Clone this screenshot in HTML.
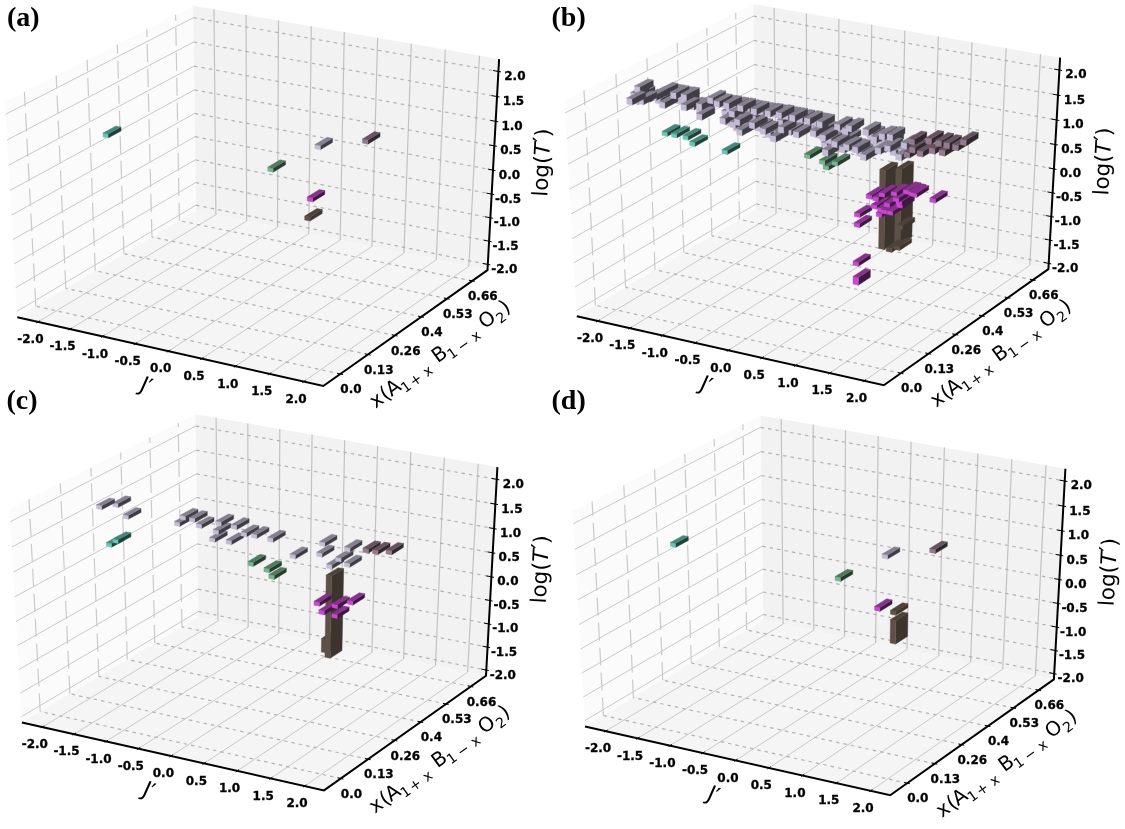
<!DOCTYPE html>
<html><head><meta charset="utf-8"><title>Figure</title>
<style>html,body{margin:0;padding:0;background:#fff;width:1125px;height:829px;overflow:hidden}svg{display:block;filter:blur(0.7px)}</style>
</head><body>
<svg width="1125" height="829" viewBox="0 0 1125 829">
<style>
.tl text{font-family:"DejaVu Sans",sans-serif;font-weight:bold;font-size:12px;text-anchor:middle;fill:#000;stroke:#000;stroke-width:0.3px}
.al{font-family:"DejaVu Sans",sans-serif;font-size:21.5px;fill:#000}
.pr{font-size:24px}
.cl{font-size:20px}
.sb{font-size:14px}
.pl{font-family:"Liberation Serif",serif;font-weight:bold;font-size:28px;fill:#000}
</style>
<rect width="1125" height="829" fill="#fff"/>
<g id="pa"><polygon points="17.3,317.2 196.1,210.7 193.2,5.7 4.9,101.7" fill="#fbfbfb"/>
<polygon points="196.1,210.7 487.5,270.1 499.1,59.1 193.2,5.7" fill="#f2f2f2"/>
<polygon points="17.3,317.2 323.3,386.0 487.5,270.1 196.1,210.7" fill="#f5f5f5"/>
<path d="M215.9 214.7L214.0 9.3 M246.6 221.0L246.1 14.9 M277.5 227.3L278.5 20.6 M308.7 233.7L311.3 26.3 M340.2 240.1L344.3 32.1 M371.9 246.5L377.6 37.9 M404.0 253.1L411.3 43.8 M436.3 259.7L445.3 49.7 M468.9 266.3L479.5 55.7" stroke="#c2c2c2" stroke-width="1.2" fill="none"/>
<path d="M35.8 306.2L24.4 91.7 M65.8 288.3L56.2 75.5 M95.2 270.8L87.1 59.8 M123.9 253.7L117.3 44.4 M151.9 237.0L146.8 29.3 M179.4 220.7L175.6 14.6" stroke="#cacaca" stroke-width="1.2" stroke-dasharray="18 7" fill="none"/>
<path d="M38.0 321.9L215.9 214.7 M70.1 329.1L246.6 221.0 M102.6 336.4L277.5 227.3 M135.3 343.8L308.7 233.7 M168.3 351.2L340.2 240.1 M201.7 358.7L371.9 246.5 M235.4 366.3L404.0 253.1 M269.4 373.9L436.3 259.7 M303.7 381.6L468.9 266.3 M16.9 311.4L196.0 205.2 M15.6 287.8L195.7 182.6 M14.2 263.8L195.4 159.8 M12.8 239.6L195.1 136.7 M11.4 215.2L194.7 113.4 M10.0 190.4L194.4 89.9 M8.5 165.3L194.1 66.1 M7.1 140.0L193.7 42.0 M5.6 114.3L193.4 17.7" stroke="#c9c9c9" stroke-width="1.0" fill="none"/>
<path d="M340.3 374.0L35.8 306.2 M368.0 354.5L65.8 288.3 M395.0 335.4L95.2 270.8 M421.3 316.8L123.9 253.7 M447.0 298.7L151.9 237.0 M472.1 280.9L179.4 220.7 M196.0 205.2L487.8 264.4 M195.7 182.6L489.0 241.2 M195.4 159.8L490.3 217.8 M195.1 136.7L491.6 194.1 M194.7 113.4L493.0 170.1 M194.4 89.9L494.3 145.9 M194.1 66.1L495.6 121.3 M193.7 42.0L497.0 96.5 M193.4 17.7L498.4 71.5" stroke="#b3b3b3" stroke-width="1.2" stroke-dasharray="3.5 4" fill="none"/>
<g><polygon points="108.2,138.0 121.1,130.9 121.0,127.0 108.0,134.1" fill="#21403a" stroke="#21403a" stroke-width="0.4"/><polygon points="103.0,137.0 108.2,138.0 108.0,134.1 102.9,133.1" fill="#66c8b4" stroke="#66c8b4" stroke-width="0.4"/><polygon points="102.9,133.1 108.0,134.1 121.0,127.0 115.8,126.0" fill="#45887a" stroke="#45887a" stroke-width="0.4"/><polygon points="310.1,221.1 322.2,213.5 322.3,209.6 310.2,217.2" fill="#3d342d" stroke="#3d342d" stroke-width="0.4"/><polygon points="304.7,220.0 310.1,221.1 310.2,217.2 304.7,216.1" fill="#5e5046" stroke="#5e5046" stroke-width="0.4"/><polygon points="304.7,216.1 310.2,217.2 322.3,209.6 316.9,208.5" fill="#4d4239" stroke="#4d4239" stroke-width="0.4"/><polygon points="273.1,172.2 285.5,164.8 285.5,160.9 273.1,168.2" fill="#263a2d" stroke="#263a2d" stroke-width="0.4"/><polygon points="267.7,171.2 273.1,172.2 273.1,168.2 267.7,167.2" fill="#78b48c" stroke="#78b48c" stroke-width="0.4"/><polygon points="267.7,167.2 273.1,168.2 285.5,160.9 280.1,159.8" fill="#527a5f" stroke="#527a5f" stroke-width="0.4"/><polygon points="312.6,202.0 324.7,194.4 324.8,190.5 312.7,198.0" fill="#401743" stroke="#401743" stroke-width="0.4"/><polygon points="307.2,200.9 312.6,202.0 312.7,198.0 307.2,197.0" fill="#c848d0" stroke="#c848d0" stroke-width="0.4"/><polygon points="307.2,197.0 312.7,198.0 324.8,190.5 319.4,189.4" fill="#88318d" stroke="#88318d" stroke-width="0.4"/><polygon points="320.3,149.8 332.5,142.4 332.6,138.3 320.3,145.7" fill="#3f3c44" stroke="#3f3c44" stroke-width="0.4"/><polygon points="314.8,148.7 320.3,149.8 320.3,145.7 314.8,144.6" fill="#c4bcd4" stroke="#c4bcd4" stroke-width="0.4"/><polygon points="314.8,144.6 320.3,145.7 332.6,138.3 327.1,137.3" fill="#858090" stroke="#858090" stroke-width="0.4"/><polygon points="367.9,144.2 380.0,136.8 380.1,132.7 368.0,140.1" fill="#30272d" stroke="#30272d" stroke-width="0.4"/><polygon points="362.3,143.1 367.9,144.2 368.0,140.1 362.4,139.0" fill="#957a8e" stroke="#957a8e" stroke-width="0.4"/><polygon points="362.4,139.0 368.0,140.1 380.1,132.7 374.5,131.6" fill="#655361" stroke="#655361" stroke-width="0.4"/></g>
<polyline points="17.3,317.2 323.3,386.0 487.5,270.1 499.1,59.1" stroke="#000" stroke-width="2" fill="none" stroke-linejoin="miter"/>
<path d="M36.4 322.9L39.9 320.8 M68.6 330.1L72.0 328.0 M101.0 337.4L104.4 335.2 M133.7 344.8L137.2 342.6 M166.8 352.2L170.2 350.0 M200.2 359.7L203.5 357.5 M233.9 367.3L237.2 365.1 M267.9 375.0L271.2 372.7 M302.3 382.7L305.5 380.4 M343.0 374.6L337.1 373.3 M370.6 355.1L364.8 353.8 M397.6 336.0L391.8 334.8 M423.9 317.4L418.2 316.2 M449.6 299.2L443.9 298.0 M474.7 281.4L469.1 280.3 M490.3 264.9L482.7 263.4 M491.6 241.7L483.9 240.2 M492.9 218.3L485.2 216.8 M494.2 194.6L486.5 193.1 M495.5 170.6L487.8 169.1 M496.9 146.3L489.1 144.9 M498.3 121.8L490.4 120.4 M499.6 97.0L491.7 95.6 M501.0 71.9L493.1 70.5" stroke="#000" stroke-width="1" fill="none"/>
<g class="tl"><text x="30.4" y="343.1">-2.0</text><text x="62.5" y="350.3">-1.5</text><text x="95.0" y="357.6">-1.0</text><text x="127.7" y="365.0">-0.5</text><text x="160.7" y="372.4">0.0</text><text x="194.1" y="379.9">0.5</text><text x="227.8" y="387.5">1.0</text><text x="261.8" y="395.1">1.5</text><text x="296.1" y="402.8">2.0</text><text x="351.0" y="393.1">0.0</text><text x="378.7" y="373.6">0.13</text><text x="405.7" y="354.5">0.26</text><text x="432.0" y="335.9">0.4</text><text x="457.7" y="317.8">0.53</text><text x="482.8" y="300.0">0.66</text><text x="504.3" y="272.8">-2.0</text><text x="505.5" y="249.6">-1.5</text><text x="506.8" y="226.2">-1.0</text><text x="508.1" y="202.5">-0.5</text><text x="509.5" y="178.5">0.0</text><text x="510.8" y="154.3">0.5</text><text x="512.1" y="129.7">1.0</text><text x="513.5" y="104.9">1.5</text><text x="514.9" y="79.9">2.0</text></g>
<text class="al" x="145.5" y="392.0" transform="rotate(12.9 145.5 392.0)" text-anchor="middle"><tspan font-style="italic">J</tspan><tspan class="pr" dy="3">′</tspan></text>
<text class="al" x="549.0" y="163.0" transform="rotate(-87 549.0 163.0)" text-anchor="middle">log(<tspan font-style="italic">T</tspan><tspan class="pr">′</tspan>)</text>
<text class="al cl" transform="translate(380.3 405.2) rotate(-36)" text-anchor="middle"><tspan x="0.0" y="0.0">x</tspan><tspan x="10.7" y="0.0">(</tspan><tspan x="20.6" y="0.0">A</tspan><tspan x="31.7" y="5.0" class="sb">1</tspan><tspan x="43.6" y="5.0" class="sb">+</tspan><tspan x="58.6" y="5.0" class="sb">x</tspan><tspan x="78.0" y="0.0">B</tspan><tspan x="88.8" y="5.0" class="sb">1</tspan><tspan x="102.7" y="5.0" class="sb">−</tspan><tspan x="118.0" y="5.0" class="sb">x</tspan><tspan x="136.6" y="0.0">O</tspan><tspan x="149.5" y="5.0" class="sb">2</tspan><tspan x="158.7" y="0.0">)</tspan></text></g>
<g id="pb"><polygon points="576.8,316.3 756.2,209.5 753.3,4.1 564.4,100.3" fill="#fbfbfb"/>
<polygon points="756.2,209.5 1048.4,269.1 1060.1,57.6 753.3,4.1" fill="#f2f2f2"/>
<polygon points="576.8,316.3 883.8,385.3 1048.4,269.1 756.2,209.5" fill="#f5f5f5"/>
<path d="M776.1 213.6L774.1 7.7 M806.8 219.9L806.4 13.3 M837.8 226.2L838.9 19.0 M869.1 232.5L871.7 24.7 M900.7 239.0L904.8 30.5 M932.6 245.5L938.3 36.4 M964.7 252.0L972.0 42.3 M997.1 258.6L1006.1 48.2 M1029.8 265.3L1040.5 54.2" stroke="#c2c2c2" stroke-width="1.2" fill="none"/>
<path d="M595.4 305.3L584.0 90.3 M625.6 287.3L615.9 74.1 M655.0 269.8L646.9 58.3 M683.8 252.7L677.2 42.8 M711.9 235.9L706.8 27.8 M739.4 219.5L735.7 13.0" stroke="#cacaca" stroke-width="1.2" stroke-dasharray="18 7" fill="none"/>
<path d="M597.7 321.0L776.1 213.6 M629.9 328.2L806.8 219.9 M662.4 335.5L837.8 226.2 M695.2 342.9L869.1 232.5 M728.4 350.4L900.7 239.0 M761.8 357.9L932.6 245.5 M795.6 365.5L964.7 252.0 M829.7 373.1L997.1 258.6 M864.2 380.9L1029.8 265.3 M576.5 310.5L756.1 204.0 M575.2 286.8L755.8 181.4 M573.8 262.8L755.5 158.5 M572.4 238.5L755.2 135.4 M571.0 214.0L754.8 112.0 M569.5 189.2L754.5 88.4 M568.1 164.1L754.2 64.6 M566.6 138.7L753.8 40.5 M565.2 112.9L753.5 16.1" stroke="#c9c9c9" stroke-width="1.0" fill="none"/>
<path d="M900.9 373.2L595.4 305.3 M928.6 353.7L625.6 287.3 M955.6 334.6L655.0 269.8 M982.1 315.9L683.8 252.7 M1007.9 297.7L711.9 235.9 M1033.0 279.9L739.4 219.5 M756.1 204.0L1048.7 263.4 M755.8 181.4L1050.0 240.1 M755.5 158.5L1051.3 216.6 M755.2 135.4L1052.6 192.9 M754.8 112.0L1053.9 168.9 M754.5 88.4L1055.3 144.6 M754.2 64.6L1056.6 120.0 M753.8 40.5L1058.0 95.1 M753.5 16.1L1059.4 70.0" stroke="#b3b3b3" stroke-width="1.2" stroke-dasharray="3.5 4" fill="none"/>
<g><polygon points="884.0,249.6 896.0,241.9 897.5,162.9 885.3,170.4" fill="#3d342d" stroke="#3d342d" stroke-width="0.4"/><polygon points="878.6,248.5 884.0,249.6 885.3,170.4 879.8,169.3" fill="#5e5046" stroke="#5e5046" stroke-width="0.4"/><polygon points="879.8,169.3 885.3,170.4 897.5,162.9 892.0,161.8" fill="#4d4239" stroke="#4d4239" stroke-width="0.4"/><polygon points="900.0,244.8 911.9,237.1 913.6,161.7 901.4,169.2" fill="#3d342d" stroke="#3d342d" stroke-width="0.4"/><polygon points="894.5,243.7 900.0,244.8 901.4,169.2 895.9,168.2" fill="#5e5046" stroke="#5e5046" stroke-width="0.4"/><polygon points="895.9,168.2 901.4,169.2 913.6,161.7 908.1,160.7" fill="#4d4239" stroke="#4d4239" stroke-width="0.4"/><polygon points="664.8,101.9 677.9,95.0 677.8,89.8 664.7,96.7" fill="#3f3c44" stroke="#3f3c44" stroke-width="0.4"/><polygon points="659.6,100.9 664.8,101.9 664.7,96.7 659.4,95.7" fill="#c4bcd4" stroke="#c4bcd4" stroke-width="0.4"/><polygon points="659.4,95.7 664.7,96.7 677.8,89.8 672.5,88.8" fill="#858090" stroke="#858090" stroke-width="0.4"/><polygon points="670.4,103.3 683.5,96.3 683.3,91.1 670.3,98.1" fill="#3f3c44" stroke="#3f3c44" stroke-width="0.4"/><polygon points="665.2,102.3 670.4,103.3 670.3,98.1 665.0,97.1" fill="#c4bcd4" stroke="#c4bcd4" stroke-width="0.4"/><polygon points="665.0,97.1 670.3,98.1 683.3,91.1 678.1,90.2" fill="#858090" stroke="#858090" stroke-width="0.4"/><polygon points="670.4,97.1 683.5,90.2 683.4,85.0 670.3,91.9" fill="#3f3c44" stroke="#3f3c44" stroke-width="0.4"/><polygon points="665.2,96.1 670.4,97.1 670.3,91.9 665.0,90.9" fill="#c4bcd4" stroke="#c4bcd4" stroke-width="0.4"/><polygon points="665.0,90.9 670.3,91.9 683.4,85.0 678.1,84.0" fill="#858090" stroke="#858090" stroke-width="0.4"/><polygon points="681.2,104.5 694.2,97.5 694.0,92.3 681.0,99.3" fill="#3f3c44" stroke="#3f3c44" stroke-width="0.4"/><polygon points="675.9,103.5 681.2,104.5 681.0,99.3 675.8,98.3" fill="#c4bcd4" stroke="#c4bcd4" stroke-width="0.4"/><polygon points="675.8,98.3 681.0,99.3 694.0,92.3 688.8,91.3" fill="#858090" stroke="#858090" stroke-width="0.4"/><polygon points="686.4,105.4 699.4,98.4 699.2,93.2 686.2,100.2" fill="#3f3c44" stroke="#3f3c44" stroke-width="0.4"/><polygon points="681.1,104.4 686.4,105.4 686.2,100.2 681.0,99.2" fill="#c4bcd4" stroke="#c4bcd4" stroke-width="0.4"/><polygon points="681.0,99.2 686.2,100.2 699.2,93.2 694.0,92.2" fill="#858090" stroke="#858090" stroke-width="0.4"/><polygon points="694.0,110.1 707.0,103.1 706.8,97.9 693.8,104.8" fill="#3f3c44" stroke="#3f3c44" stroke-width="0.4"/><polygon points="688.7,109.1 694.0,110.1 693.8,104.8 688.6,103.8" fill="#c4bcd4" stroke="#c4bcd4" stroke-width="0.4"/><polygon points="688.6,103.8 693.8,104.8 706.8,97.9 701.6,96.9" fill="#858090" stroke="#858090" stroke-width="0.4"/><polygon points="681.3,99.4 694.3,92.4 694.2,87.2 681.1,94.2" fill="#3f3c44" stroke="#3f3c44" stroke-width="0.4"/><polygon points="676.0,98.4 681.3,99.4 681.1,94.2 675.8,93.2" fill="#c4bcd4" stroke="#c4bcd4" stroke-width="0.4"/><polygon points="675.8,93.2 681.1,94.2 694.2,87.2 688.9,86.2" fill="#858090" stroke="#858090" stroke-width="0.4"/><polygon points="701.8,114.7 714.7,107.7 714.6,102.5 701.7,109.5" fill="#3f3c44" stroke="#3f3c44" stroke-width="0.4"/><polygon points="696.5,113.7 701.8,114.7 701.7,109.5 696.4,108.5" fill="#c4bcd4" stroke="#c4bcd4" stroke-width="0.4"/><polygon points="696.4,108.5 701.7,109.5 714.6,102.5 709.4,101.5" fill="#858090" stroke="#858090" stroke-width="0.4"/><polygon points="730.3,126.0 743.1,118.9 743.1,113.7 730.2,120.8" fill="#3f3c44" stroke="#3f3c44" stroke-width="0.4"/><polygon points="725.0,125.0 730.3,126.0 730.2,120.8 724.9,119.8" fill="#c4bcd4" stroke="#c4bcd4" stroke-width="0.4"/><polygon points="724.9,119.8 730.2,120.8 743.1,113.7 737.8,112.7" fill="#858090" stroke="#858090" stroke-width="0.4"/><polygon points="660.5,104.1 673.7,97.1 673.6,91.9 660.4,98.9" fill="#3f3c44" stroke="#3f3c44" stroke-width="0.4"/><polygon points="655.3,103.1 660.5,104.1 660.4,98.9 655.1,97.9" fill="#c4bcd4" stroke="#c4bcd4" stroke-width="0.4"/><polygon points="655.1,97.9 660.4,98.9 673.6,91.9 668.3,90.9" fill="#858090" stroke="#858090" stroke-width="0.4"/><polygon points="707.3,106.6 720.3,99.6 720.1,94.3 707.2,101.3" fill="#3f3c44" stroke="#3f3c44" stroke-width="0.4"/><polygon points="702.0,105.6 707.3,106.6 707.2,101.3 701.9,100.3" fill="#c4bcd4" stroke="#c4bcd4" stroke-width="0.4"/><polygon points="701.9,100.3 707.2,101.3 720.1,94.3 714.9,93.4" fill="#858090" stroke="#858090" stroke-width="0.4"/><polygon points="738.7,131.6 751.5,124.5 751.4,119.3 738.6,126.4" fill="#3f3c44" stroke="#3f3c44" stroke-width="0.4"/><polygon points="733.4,130.6 738.7,131.6 738.6,126.4 733.3,125.4" fill="#c4bcd4" stroke="#c4bcd4" stroke-width="0.4"/><polygon points="733.3,125.4 738.6,126.4 751.4,119.3 746.1,118.3" fill="#858090" stroke="#858090" stroke-width="0.4"/><polygon points="729.8,120.7 742.7,113.6 742.6,108.4 729.7,115.4" fill="#3f3c44" stroke="#3f3c44" stroke-width="0.4"/><polygon points="724.5,119.6 729.8,120.7 729.7,115.4 724.4,114.4" fill="#c4bcd4" stroke="#c4bcd4" stroke-width="0.4"/><polygon points="724.4,114.4 729.7,115.4 742.6,108.4 737.3,107.4" fill="#858090" stroke="#858090" stroke-width="0.4"/><polygon points="660.5,98.0 673.8,91.0 673.6,85.8 660.4,92.7" fill="#3f3c44" stroke="#3f3c44" stroke-width="0.4"/><polygon points="655.3,97.0 660.5,98.0 660.4,92.7 655.1,91.7" fill="#c4bcd4" stroke="#c4bcd4" stroke-width="0.4"/><polygon points="655.1,91.7 660.4,92.7 673.6,85.8 668.3,84.8" fill="#858090" stroke="#858090" stroke-width="0.4"/><polygon points="727.1,116.5 740.0,109.4 739.9,104.2 727.0,111.3" fill="#3f3c44" stroke="#3f3c44" stroke-width="0.4"/><polygon points="721.8,115.5 727.1,116.5 727.0,111.3 721.7,110.3" fill="#c4bcd4" stroke="#c4bcd4" stroke-width="0.4"/><polygon points="721.7,110.3 727.0,111.3 739.9,104.2 734.6,103.2" fill="#858090" stroke="#858090" stroke-width="0.4"/><polygon points="734.9,122.5 747.7,115.4 747.6,110.2 734.8,117.3" fill="#3f3c44" stroke="#3f3c44" stroke-width="0.4"/><polygon points="729.6,121.5 734.9,122.5 734.8,117.3 729.5,116.3" fill="#c4bcd4" stroke="#c4bcd4" stroke-width="0.4"/><polygon points="729.5,116.3 734.8,117.3 747.6,110.2 742.3,109.2" fill="#858090" stroke="#858090" stroke-width="0.4"/><polygon points="748.3,131.9 761.1,124.8 761.0,119.6 748.2,126.7" fill="#3f3c44" stroke="#3f3c44" stroke-width="0.4"/><polygon points="743.0,130.9 748.3,131.9 748.2,126.7 742.9,125.7" fill="#c4bcd4" stroke="#c4bcd4" stroke-width="0.4"/><polygon points="742.9,125.7 748.2,126.7 761.0,119.6 755.7,118.6" fill="#858090" stroke="#858090" stroke-width="0.4"/><polygon points="747.2,126.9 760.0,119.8 759.9,114.6 747.1,121.7" fill="#3f3c44" stroke="#3f3c44" stroke-width="0.4"/><polygon points="741.9,125.9 747.2,126.9 747.1,121.7 741.8,120.6" fill="#c4bcd4" stroke="#c4bcd4" stroke-width="0.4"/><polygon points="741.8,120.6 747.1,121.7 759.9,114.6 754.6,113.5" fill="#858090" stroke="#858090" stroke-width="0.4"/><polygon points="724.1,107.9 737.0,100.9 736.9,95.7 724.0,102.7" fill="#3f3c44" stroke="#3f3c44" stroke-width="0.4"/><polygon points="718.8,106.9 724.1,107.9 724.0,102.7 718.7,101.7" fill="#c4bcd4" stroke="#c4bcd4" stroke-width="0.4"/><polygon points="718.7,101.7 724.0,102.7 736.9,95.7 731.6,94.7" fill="#858090" stroke="#858090" stroke-width="0.4"/><polygon points="731.7,113.0 744.5,105.9 744.4,100.7 731.6,107.8" fill="#3f3c44" stroke="#3f3c44" stroke-width="0.4"/><polygon points="726.3,112.0 731.7,113.0 731.6,107.8 726.2,106.8" fill="#c4bcd4" stroke="#c4bcd4" stroke-width="0.4"/><polygon points="726.2,106.8 731.6,107.8 744.4,100.7 739.1,99.7" fill="#858090" stroke="#858090" stroke-width="0.4"/><polygon points="741.4,118.3 754.2,111.2 754.1,106.0 741.3,113.1" fill="#3f3c44" stroke="#3f3c44" stroke-width="0.4"/><polygon points="736.1,117.3 741.4,118.3 741.3,113.1 736.0,112.1" fill="#c4bcd4" stroke="#c4bcd4" stroke-width="0.4"/><polygon points="736.0,112.1 741.3,113.1 754.1,106.0 748.8,105.0" fill="#858090" stroke="#858090" stroke-width="0.4"/><polygon points="760.0,131.5 772.7,124.3 772.7,119.1 760.0,126.2" fill="#3f3c44" stroke="#3f3c44" stroke-width="0.4"/><polygon points="754.7,130.4 760.0,131.5 760.0,126.2 754.6,125.2" fill="#c4bcd4" stroke="#c4bcd4" stroke-width="0.4"/><polygon points="754.6,125.2 760.0,126.2 772.7,119.1 767.4,118.1" fill="#858090" stroke="#858090" stroke-width="0.4"/><polygon points="738.7,114.3 751.5,107.2 751.4,102.0 738.6,109.0" fill="#3f3c44" stroke="#3f3c44" stroke-width="0.4"/><polygon points="733.3,113.3 738.7,114.3 738.6,109.0 733.2,108.0" fill="#c4bcd4" stroke="#c4bcd4" stroke-width="0.4"/><polygon points="733.2,108.0 738.6,109.0 751.4,102.0 746.1,101.0" fill="#858090" stroke="#858090" stroke-width="0.4"/><polygon points="770.5,138.1 783.2,130.9 783.2,125.7 770.5,132.9" fill="#3f3c44" stroke="#3f3c44" stroke-width="0.4"/><polygon points="765.2,137.1 770.5,138.1 770.5,132.9 765.1,131.9" fill="#c4bcd4" stroke="#c4bcd4" stroke-width="0.4"/><polygon points="765.1,131.9 770.5,132.9 783.2,125.7 777.8,124.7" fill="#858090" stroke="#858090" stroke-width="0.4"/><polygon points="736.0,110.1 748.8,103.1 748.7,97.8 735.9,104.9" fill="#3f3c44" stroke="#3f3c44" stroke-width="0.4"/><polygon points="730.6,109.1 736.0,110.1 735.9,104.9 730.5,103.8" fill="#c4bcd4" stroke="#c4bcd4" stroke-width="0.4"/><polygon points="730.5,103.8 735.9,104.9 748.7,97.8 743.4,96.8" fill="#858090" stroke="#858090" stroke-width="0.4"/><polygon points="755.5,121.5 768.3,114.4 768.2,109.2 755.4,116.3" fill="#3f3c44" stroke="#3f3c44" stroke-width="0.4"/><polygon points="750.2,120.5 755.5,121.5 755.4,116.3 750.1,115.3" fill="#c4bcd4" stroke="#c4bcd4" stroke-width="0.4"/><polygon points="750.1,115.3 755.4,116.3 768.2,109.2 762.9,108.2" fill="#858090" stroke="#858090" stroke-width="0.4"/><polygon points="641.7,98.5 655.1,91.5 654.9,86.2 641.5,93.2" fill="#3f3c44" stroke="#3f3c44" stroke-width="0.4"/><polygon points="636.5,97.5 641.7,98.5 641.5,93.2 636.2,92.2" fill="#c4bcd4" stroke="#c4bcd4" stroke-width="0.4"/><polygon points="636.2,92.2 641.5,93.2 654.9,86.2 649.7,85.2" fill="#858090" stroke="#858090" stroke-width="0.4"/><polygon points="779.7,137.3 792.3,130.1 792.3,124.9 779.6,132.1" fill="#3f3c44" stroke="#3f3c44" stroke-width="0.4"/><polygon points="774.3,136.3 779.7,137.3 779.6,132.1 774.2,131.1" fill="#c4bcd4" stroke="#c4bcd4" stroke-width="0.4"/><polygon points="774.2,131.1 779.6,132.1 792.3,124.9 786.9,123.9" fill="#858090" stroke="#858090" stroke-width="0.4"/><polygon points="749.7,113.0 762.5,105.9 762.4,100.7 749.6,107.7" fill="#3f3c44" stroke="#3f3c44" stroke-width="0.4"/><polygon points="744.3,112.0 749.7,113.0 749.6,107.7 744.3,106.7" fill="#c4bcd4" stroke="#c4bcd4" stroke-width="0.4"/><polygon points="744.3,106.7 749.6,107.7 762.4,100.7 757.1,99.6" fill="#858090" stroke="#858090" stroke-width="0.4"/><polygon points="649.8,102.3 663.2,95.2 663.0,90.0 649.6,97.0" fill="#3f3c44" stroke="#3f3c44" stroke-width="0.4"/><polygon points="644.6,101.2 649.8,102.3 649.6,97.0 644.4,96.0" fill="#c4bcd4" stroke="#c4bcd4" stroke-width="0.4"/><polygon points="644.4,96.0 649.6,97.0 663.0,90.0 657.7,89.0" fill="#858090" stroke="#858090" stroke-width="0.4"/><polygon points="763.3,115.7 776.1,108.6 776.0,103.3 763.3,110.4" fill="#3f3c44" stroke="#3f3c44" stroke-width="0.4"/><polygon points="757.9,114.7 763.3,115.7 763.3,110.4 757.9,109.4" fill="#c4bcd4" stroke="#c4bcd4" stroke-width="0.4"/><polygon points="757.9,109.4 763.3,110.4 776.0,103.3 770.7,102.3" fill="#858090" stroke="#858090" stroke-width="0.4"/><polygon points="791.1,135.3 803.7,128.0 803.7,122.8 791.1,130.0" fill="#3f3c44" stroke="#3f3c44" stroke-width="0.4"/><polygon points="785.7,134.2 791.1,135.3 791.1,130.0 785.7,129.0" fill="#c4bcd4" stroke="#c4bcd4" stroke-width="0.4"/><polygon points="785.7,129.0 791.1,130.0 803.7,122.8 798.3,121.8" fill="#858090" stroke="#858090" stroke-width="0.4"/><polygon points="782.6,125.6 795.2,118.5 795.2,113.2 782.5,120.4" fill="#3f3c44" stroke="#3f3c44" stroke-width="0.4"/><polygon points="777.2,124.6 782.6,125.6 782.5,120.4 777.1,119.3" fill="#c4bcd4" stroke="#c4bcd4" stroke-width="0.4"/><polygon points="777.1,119.3 782.5,120.4 795.2,113.2 789.8,112.2" fill="#858090" stroke="#858090" stroke-width="0.4"/><polygon points="775.8,117.6 788.6,110.5 788.5,105.2 775.8,112.3" fill="#3f3c44" stroke="#3f3c44" stroke-width="0.4"/><polygon points="770.4,116.6 775.8,117.6 775.8,112.3 770.4,111.3" fill="#c4bcd4" stroke="#c4bcd4" stroke-width="0.4"/><polygon points="770.4,111.3 775.8,112.3 788.5,105.2 783.1,104.2" fill="#858090" stroke="#858090" stroke-width="0.4"/><polygon points="637.8,104.6 651.3,97.5 651.1,92.2 637.6,99.2" fill="#3f3c44" stroke="#3f3c44" stroke-width="0.4"/><polygon points="632.5,103.5 637.8,104.6 637.6,99.2 632.3,98.2" fill="#c4bcd4" stroke="#c4bcd4" stroke-width="0.4"/><polygon points="632.3,98.2 637.6,99.2 651.1,92.2 645.8,91.2" fill="#858090" stroke="#858090" stroke-width="0.4"/><polygon points="788.2,119.8 800.8,112.7 800.8,107.4 788.1,114.6" fill="#3f3c44" stroke="#3f3c44" stroke-width="0.4"/><polygon points="782.8,118.8 788.2,119.8 788.1,114.6 782.7,113.5" fill="#c4bcd4" stroke="#c4bcd4" stroke-width="0.4"/><polygon points="782.7,113.5 788.1,114.6 800.8,107.4 795.4,106.4" fill="#858090" stroke="#858090" stroke-width="0.4"/><polygon points="826.7,148.4 839.1,141.0 839.2,135.8 826.7,143.1" fill="#3f3c44" stroke="#3f3c44" stroke-width="0.4"/><polygon points="821.2,147.3 826.7,148.4 826.7,143.1 821.2,142.1" fill="#c4bcd4" stroke="#c4bcd4" stroke-width="0.4"/><polygon points="821.2,142.1 826.7,143.1 839.2,135.8 833.7,134.8" fill="#858090" stroke="#858090" stroke-width="0.4"/><polygon points="832.5,151.6 845.0,144.2 845.0,139.0 832.5,146.3" fill="#3f3c44" stroke="#3f3c44" stroke-width="0.4"/><polygon points="827.1,150.5 832.5,151.6 832.5,146.3 827.1,145.3" fill="#c4bcd4" stroke="#c4bcd4" stroke-width="0.4"/><polygon points="827.1,145.3 832.5,146.3 845.0,139.0 839.6,138.0" fill="#858090" stroke="#858090" stroke-width="0.4"/><polygon points="636.1,98.7 649.6,91.6 649.4,86.3 635.9,93.4" fill="#3f3c44" stroke="#3f3c44" stroke-width="0.4"/><polygon points="630.8,97.7 636.1,98.7 635.9,93.4 630.6,92.4" fill="#c4bcd4" stroke="#c4bcd4" stroke-width="0.4"/><polygon points="630.6,92.4 635.9,93.4 649.4,86.3 644.1,85.3" fill="#858090" stroke="#858090" stroke-width="0.4"/><polygon points="820.5,138.7 833.1,131.5 833.1,126.2 820.5,133.5" fill="#3f3c44" stroke="#3f3c44" stroke-width="0.4"/><polygon points="815.1,137.7 820.5,138.7 820.5,133.5 815.1,132.4" fill="#c4bcd4" stroke="#c4bcd4" stroke-width="0.4"/><polygon points="815.1,132.4 820.5,133.5 833.1,126.2 827.6,125.2" fill="#858090" stroke="#858090" stroke-width="0.4"/><polygon points="802.3,122.8 815.0,115.6 815.0,110.3 802.3,117.5" fill="#3f3c44" stroke="#3f3c44" stroke-width="0.4"/><polygon points="796.9,121.7 802.3,122.8 802.3,117.5 796.9,116.4" fill="#c4bcd4" stroke="#c4bcd4" stroke-width="0.4"/><polygon points="796.9,116.4 802.3,117.5 815.0,110.3 809.5,109.3" fill="#858090" stroke="#858090" stroke-width="0.4"/><polygon points="812.8,130.4 825.3,123.2 825.3,117.9 812.8,125.1" fill="#3f3c44" stroke="#3f3c44" stroke-width="0.4"/><polygon points="807.3,129.4 812.8,130.4 812.8,125.1 807.3,124.1" fill="#c4bcd4" stroke="#c4bcd4" stroke-width="0.4"/><polygon points="807.3,124.1 812.8,125.1 825.3,117.9 819.9,116.9" fill="#858090" stroke="#858090" stroke-width="0.4"/><polygon points="831.2,144.1 843.7,136.8 843.7,131.6 831.2,138.8" fill="#3f3c44" stroke="#3f3c44" stroke-width="0.4"/><polygon points="825.8,143.1 831.2,144.1 831.2,138.8 825.8,137.8" fill="#c4bcd4" stroke="#c4bcd4" stroke-width="0.4"/><polygon points="825.8,137.8 831.2,138.8 843.7,131.6 838.3,130.5" fill="#858090" stroke="#858090" stroke-width="0.4"/><polygon points="840.8,150.0 853.3,142.6 853.3,137.4 840.9,144.7" fill="#3f3c44" stroke="#3f3c44" stroke-width="0.4"/><polygon points="835.4,148.9 840.8,150.0 840.9,144.7 835.4,143.7" fill="#c4bcd4" stroke="#c4bcd4" stroke-width="0.4"/><polygon points="835.4,143.7 840.9,144.7 853.3,137.4 847.8,136.4" fill="#858090" stroke="#858090" stroke-width="0.4"/><polygon points="818.9,132.0 831.5,124.8 831.5,119.5 818.9,126.8" fill="#3f3c44" stroke="#3f3c44" stroke-width="0.4"/><polygon points="813.5,131.0 818.9,132.0 818.9,126.8 813.5,125.7" fill="#c4bcd4" stroke="#c4bcd4" stroke-width="0.4"/><polygon points="813.5,125.7 818.9,126.8 831.5,119.5 826.1,118.5" fill="#858090" stroke="#858090" stroke-width="0.4"/><polygon points="823.7,134.2 836.3,126.9 836.3,121.7 823.7,128.9" fill="#3f3c44" stroke="#3f3c44" stroke-width="0.4"/><polygon points="818.3,133.2 823.7,134.2 823.7,128.9 818.3,127.9" fill="#c4bcd4" stroke="#c4bcd4" stroke-width="0.4"/><polygon points="818.3,127.9 823.7,128.9 836.3,121.7 830.8,120.6" fill="#858090" stroke="#858090" stroke-width="0.4"/><polygon points="816.0,125.9 828.5,118.7 828.6,113.4 816.0,120.6" fill="#3f3c44" stroke="#3f3c44" stroke-width="0.4"/><polygon points="810.5,124.8 816.0,125.9 816.0,120.6 810.5,119.5" fill="#c4bcd4" stroke="#c4bcd4" stroke-width="0.4"/><polygon points="810.5,119.5 816.0,120.6 828.6,113.4 823.1,112.4" fill="#858090" stroke="#858090" stroke-width="0.4"/><polygon points="853.4,151.7 865.7,144.3 865.8,139.1 853.4,146.4" fill="#3f3c44" stroke="#3f3c44" stroke-width="0.4"/><polygon points="847.9,150.6 853.4,151.7 853.4,146.4 847.9,145.4" fill="#c4bcd4" stroke="#c4bcd4" stroke-width="0.4"/><polygon points="847.9,145.4 853.4,146.4 865.8,139.1 860.3,138.0" fill="#858090" stroke="#858090" stroke-width="0.4"/><polygon points="861.8,156.7 874.1,149.3 874.2,144.0 861.8,151.4" fill="#3f3c44" stroke="#3f3c44" stroke-width="0.4"/><polygon points="856.3,155.6 861.8,156.7 861.8,151.4 856.3,150.3" fill="#c4bcd4" stroke="#c4bcd4" stroke-width="0.4"/><polygon points="856.3,150.3 861.8,151.4 874.2,144.0 868.7,143.0" fill="#858090" stroke="#858090" stroke-width="0.4"/><polygon points="848.4,142.5 860.8,135.2 860.9,129.9 848.4,137.2" fill="#3f3c44" stroke="#3f3c44" stroke-width="0.4"/><polygon points="842.9,141.4 848.4,142.5 848.4,137.2 842.9,136.1" fill="#c4bcd4" stroke="#c4bcd4" stroke-width="0.4"/><polygon points="842.9,136.1 848.4,137.2 860.9,129.9 855.4,128.8" fill="#858090" stroke="#858090" stroke-width="0.4"/><polygon points="843.8,132.4 856.2,125.1 856.3,119.8 843.8,127.1" fill="#3f3c44" stroke="#3f3c44" stroke-width="0.4"/><polygon points="838.3,131.3 843.8,132.4 843.8,127.1 838.3,126.0" fill="#c4bcd4" stroke="#c4bcd4" stroke-width="0.4"/><polygon points="838.3,126.0 843.8,127.1 856.3,119.8 850.8,118.8" fill="#858090" stroke="#858090" stroke-width="0.4"/><polygon points="878.6,148.4 890.9,141.0 891.0,135.7 878.6,143.1" fill="#3f3c44" stroke="#3f3c44" stroke-width="0.4"/><polygon points="873.0,147.3 878.6,148.4 878.6,143.1 873.1,142.0" fill="#c4bcd4" stroke="#c4bcd4" stroke-width="0.4"/><polygon points="873.1,142.0 878.6,143.1 891.0,135.7 885.4,134.7" fill="#858090" stroke="#858090" stroke-width="0.4"/><polygon points="885.3,152.8 897.6,145.4 897.7,140.1 885.4,147.5" fill="#3f3c44" stroke="#3f3c44" stroke-width="0.4"/><polygon points="879.8,151.7 885.3,152.8 885.4,147.5 879.9,146.4" fill="#c4bcd4" stroke="#c4bcd4" stroke-width="0.4"/><polygon points="879.9,146.4 885.4,147.5 897.7,140.1 892.2,139.0" fill="#858090" stroke="#858090" stroke-width="0.4"/><polygon points="872.4,139.2 884.8,131.8 884.9,126.5 872.5,133.8" fill="#3f3c44" stroke="#3f3c44" stroke-width="0.4"/><polygon points="866.9,138.1 872.4,139.2 872.5,133.8 867.0,132.8" fill="#c4bcd4" stroke="#c4bcd4" stroke-width="0.4"/><polygon points="867.0,132.8 872.5,133.8 884.9,126.5 879.3,125.5" fill="#858090" stroke="#858090" stroke-width="0.4"/><polygon points="882.6,146.9 894.9,139.5 895.0,134.2 882.6,141.6" fill="#3f3c44" stroke="#3f3c44" stroke-width="0.4"/><polygon points="877.0,145.8 882.6,146.9 882.6,141.6 877.1,140.5" fill="#c4bcd4" stroke="#c4bcd4" stroke-width="0.4"/><polygon points="877.1,140.5 882.6,141.6 895.0,134.2 889.4,133.2" fill="#858090" stroke="#858090" stroke-width="0.4"/><polygon points="895.7,156.1 907.9,148.6 908.0,143.3 895.8,150.8" fill="#3f3c44" stroke="#3f3c44" stroke-width="0.4"/><polygon points="890.1,155.0 895.7,156.1 895.8,150.8 890.2,149.7" fill="#c4bcd4" stroke="#c4bcd4" stroke-width="0.4"/><polygon points="890.2,149.7 895.8,150.8 908.0,143.3 902.5,142.3" fill="#858090" stroke="#858090" stroke-width="0.4"/><polygon points="880.6,141.4 892.9,134.0 893.0,128.7 880.6,136.1" fill="#3f3c44" stroke="#3f3c44" stroke-width="0.4"/><polygon points="875.0,140.3 880.6,141.4 880.6,136.1 875.1,135.0" fill="#c4bcd4" stroke="#c4bcd4" stroke-width="0.4"/><polygon points="875.1,135.0 880.6,136.1 893.0,128.7 887.4,127.7" fill="#858090" stroke="#858090" stroke-width="0.4"/><polygon points="887.3,145.8 899.6,138.4 899.7,133.1 887.4,140.5" fill="#3f3c44" stroke="#3f3c44" stroke-width="0.4"/><polygon points="881.8,144.7 887.3,145.8 887.4,140.5 881.8,139.4" fill="#c4bcd4" stroke="#c4bcd4" stroke-width="0.4"/><polygon points="881.8,139.4 887.4,140.5 899.7,133.1 894.2,132.0" fill="#858090" stroke="#858090" stroke-width="0.4"/><polygon points="891.3,146.1 903.6,138.7 903.7,133.4 891.4,140.8" fill="#3f3c44" stroke="#3f3c44" stroke-width="0.4"/><polygon points="885.8,145.0 891.3,146.1 891.4,140.8 885.8,139.7" fill="#c4bcd4" stroke="#c4bcd4" stroke-width="0.4"/><polygon points="885.8,139.7 891.4,140.8 903.7,133.4 898.2,132.3" fill="#858090" stroke="#858090" stroke-width="0.4"/><polygon points="904.0,154.7 916.2,147.2 916.3,141.9 904.1,149.4" fill="#3f3c44" stroke="#3f3c44" stroke-width="0.4"/><polygon points="898.4,153.6 904.0,154.7 904.1,149.4 898.5,148.3" fill="#c4bcd4" stroke="#c4bcd4" stroke-width="0.4"/><polygon points="898.5,148.3 904.1,149.4 916.3,141.9 910.7,140.9" fill="#858090" stroke="#858090" stroke-width="0.4"/><polygon points="888.6,140.2 900.9,132.8 901.0,127.5 888.7,134.9" fill="#3f3c44" stroke="#3f3c44" stroke-width="0.4"/><polygon points="883.0,139.1 888.6,140.2 888.7,134.9 883.1,133.8" fill="#c4bcd4" stroke="#c4bcd4" stroke-width="0.4"/><polygon points="883.1,133.8 888.7,134.9 901.0,127.5 895.4,126.5" fill="#858090" stroke="#858090" stroke-width="0.4"/><polygon points="667.3,136.3 680.2,129.2 680.1,125.3 667.1,132.4" fill="#21403a" stroke="#21403a" stroke-width="0.4"/><polygon points="662.1,135.3 667.3,136.3 667.1,132.4 661.9,131.4" fill="#66c8b4" stroke="#66c8b4" stroke-width="0.4"/><polygon points="661.9,131.4 667.1,132.4 680.1,125.3 674.9,124.3" fill="#45887a" stroke="#45887a" stroke-width="0.4"/><polygon points="676.7,137.9 689.6,130.8 689.5,126.9 676.5,134.0" fill="#21403a" stroke="#21403a" stroke-width="0.4"/><polygon points="671.5,136.9 676.7,137.9 676.5,134.0 671.3,133.0" fill="#66c8b4" stroke="#66c8b4" stroke-width="0.4"/><polygon points="671.3,133.0 676.5,134.0 689.5,126.9 684.3,125.9" fill="#45887a" stroke="#45887a" stroke-width="0.4"/><polygon points="858.3,285.2 870.3,277.3 870.4,269.7 858.4,277.6" fill="#401743" stroke="#401743" stroke-width="0.4"/><polygon points="853.0,284.1 858.3,285.2 858.4,277.6 853.0,276.4" fill="#c848d0" stroke="#c848d0" stroke-width="0.4"/><polygon points="853.0,276.4 858.4,277.6 870.4,269.7 865.1,268.6" fill="#88318d" stroke="#88318d" stroke-width="0.4"/><polygon points="694.8,146.5 707.7,139.3 707.6,135.4 694.7,142.5" fill="#21403a" stroke="#21403a" stroke-width="0.4"/><polygon points="689.6,145.4 694.8,146.5 694.7,142.5 689.5,141.5" fill="#66c8b4" stroke="#66c8b4" stroke-width="0.4"/><polygon points="689.5,141.5 694.7,142.5 707.6,135.4 702.4,134.4" fill="#45887a" stroke="#45887a" stroke-width="0.4"/><polygon points="688.1,140.2 701.0,133.1 700.9,129.2 688.0,136.3" fill="#21403a" stroke="#21403a" stroke-width="0.4"/><polygon points="682.9,139.2 688.1,140.2 688.0,136.3 682.8,135.3" fill="#66c8b4" stroke="#66c8b4" stroke-width="0.4"/><polygon points="682.8,135.3 688.0,136.3 700.9,129.2 695.7,128.2" fill="#45887a" stroke="#45887a" stroke-width="0.4"/><polygon points="858.3,266.2 870.4,258.4 870.4,254.6 858.4,262.3" fill="#401743" stroke="#401743" stroke-width="0.4"/><polygon points="853.0,265.1 858.3,266.2 858.4,262.3 853.0,261.2" fill="#c848d0" stroke="#c848d0" stroke-width="0.4"/><polygon points="853.0,261.2 858.4,262.3 870.4,254.6 865.1,253.5" fill="#88318d" stroke="#88318d" stroke-width="0.4"/><polygon points="664.9,108.5 677.9,101.5 677.7,95.5 664.6,102.5" fill="#3f3c44" stroke="#3f3c44" stroke-width="0.4"/><polygon points="659.6,107.5 664.9,108.5 664.6,102.5 659.4,101.5" fill="#c4bcd4" stroke="#c4bcd4" stroke-width="0.4"/><polygon points="659.4,101.5 664.6,102.5 677.7,95.5 672.5,94.6" fill="#858090" stroke="#858090" stroke-width="0.4"/><polygon points="727.3,154.6 740.0,147.4 740.0,143.5 727.2,150.6" fill="#21403a" stroke="#21403a" stroke-width="0.4"/><polygon points="722.0,153.6 727.3,154.6 727.2,150.6 721.9,149.6" fill="#66c8b4" stroke="#66c8b4" stroke-width="0.4"/><polygon points="721.9,149.6 727.2,150.6 740.0,143.5 734.7,142.4" fill="#45887a" stroke="#45887a" stroke-width="0.4"/><polygon points="664.8,96.2 677.9,89.2 677.8,83.2 664.6,90.1" fill="#3f3c44" stroke="#3f3c44" stroke-width="0.4"/><polygon points="659.6,95.2 664.8,96.2 664.6,90.1 659.4,89.2" fill="#c4bcd4" stroke="#c4bcd4" stroke-width="0.4"/><polygon points="659.4,89.2 664.6,90.1 677.8,83.2 672.5,82.3" fill="#858090" stroke="#858090" stroke-width="0.4"/><polygon points="686.3,110.9 699.3,103.9 699.1,97.9 686.1,104.9" fill="#3f3c44" stroke="#3f3c44" stroke-width="0.4"/><polygon points="681.0,109.9 686.3,110.9 686.1,104.9 680.9,103.9" fill="#c4bcd4" stroke="#c4bcd4" stroke-width="0.4"/><polygon points="680.9,103.9 686.1,104.9 699.1,97.9 693.9,96.9" fill="#858090" stroke="#858090" stroke-width="0.4"/><polygon points="701.9,120.2 714.8,113.2 714.7,107.2 701.8,114.2" fill="#3f3c44" stroke="#3f3c44" stroke-width="0.4"/><polygon points="696.7,119.2 701.9,120.2 701.8,114.2 696.5,113.2" fill="#c4bcd4" stroke="#c4bcd4" stroke-width="0.4"/><polygon points="696.5,113.2 701.8,114.2 714.7,107.2 709.5,106.2" fill="#858090" stroke="#858090" stroke-width="0.4"/><polygon points="676.1,98.9 689.1,91.9 688.9,85.9 675.9,92.9" fill="#3f3c44" stroke="#3f3c44" stroke-width="0.4"/><polygon points="670.8,97.9 676.1,98.9 675.9,92.9 670.6,91.9" fill="#c4bcd4" stroke="#c4bcd4" stroke-width="0.4"/><polygon points="670.6,91.9 675.9,92.9 688.9,85.9 683.7,85.0" fill="#858090" stroke="#858090" stroke-width="0.4"/><polygon points="686.5,100.7 699.5,93.7 699.3,87.7 686.3,94.7" fill="#3f3c44" stroke="#3f3c44" stroke-width="0.4"/><polygon points="681.2,99.7 686.5,100.7 686.3,94.7 681.0,93.7" fill="#c4bcd4" stroke="#c4bcd4" stroke-width="0.4"/><polygon points="681.0,93.7 686.3,94.7 699.3,87.7 694.1,86.7" fill="#858090" stroke="#858090" stroke-width="0.4"/><polygon points="701.7,110.0 714.7,103.0 714.5,97.0 701.6,104.0" fill="#3f3c44" stroke="#3f3c44" stroke-width="0.4"/><polygon points="696.4,109.0 701.7,110.0 701.6,104.0 696.3,103.0" fill="#c4bcd4" stroke="#c4bcd4" stroke-width="0.4"/><polygon points="696.3,103.0 701.6,104.0 714.5,97.0 709.3,96.0" fill="#858090" stroke="#858090" stroke-width="0.4"/><polygon points="725.3,124.6 738.1,117.5 738.0,111.5 725.1,118.6" fill="#3f3c44" stroke="#3f3c44" stroke-width="0.4"/><polygon points="720.0,123.5 725.3,124.6 725.1,118.6 719.8,117.5" fill="#c4bcd4" stroke="#c4bcd4" stroke-width="0.4"/><polygon points="719.8,117.5 725.1,118.6 738.0,111.5 732.7,110.5" fill="#858090" stroke="#858090" stroke-width="0.4"/><polygon points="742.0,135.8 754.8,128.6 754.7,122.7 741.9,129.8" fill="#3f3c44" stroke="#3f3c44" stroke-width="0.4"/><polygon points="736.7,134.8 742.0,135.8 741.9,129.8 736.6,128.8" fill="#c4bcd4" stroke="#c4bcd4" stroke-width="0.4"/><polygon points="736.6,128.8 741.9,129.8 754.7,122.7 749.4,121.6" fill="#858090" stroke="#858090" stroke-width="0.4"/><polygon points="656.3,100.5 669.5,93.5 669.3,87.5 656.1,94.5" fill="#3f3c44" stroke="#3f3c44" stroke-width="0.4"/><polygon points="651.1,99.5 656.3,100.5 656.1,94.5 650.8,93.5" fill="#c4bcd4" stroke="#c4bcd4" stroke-width="0.4"/><polygon points="650.8,93.5 656.1,94.5 669.3,87.5 664.1,86.5" fill="#858090" stroke="#858090" stroke-width="0.4"/><polygon points="859.5,227.7 871.6,220.1 871.7,216.2 859.5,223.8" fill="#401743" stroke="#401743" stroke-width="0.4"/><polygon points="854.1,226.6 859.5,227.7 859.5,223.8 854.1,222.7" fill="#c848d0" stroke="#c848d0" stroke-width="0.4"/><polygon points="854.1,222.7 859.5,223.8 871.7,216.2 866.3,215.1" fill="#88318d" stroke="#88318d" stroke-width="0.4"/><polygon points="735.4,128.3 748.2,121.2 748.1,115.2 735.3,122.3" fill="#3f3c44" stroke="#3f3c44" stroke-width="0.4"/><polygon points="730.1,127.3 735.4,128.3 735.3,122.3 730.0,121.2" fill="#c4bcd4" stroke="#c4bcd4" stroke-width="0.4"/><polygon points="730.0,121.2 735.3,122.3 748.1,115.2 742.8,114.2" fill="#858090" stroke="#858090" stroke-width="0.4"/><polygon points="891.7,252.4 903.6,244.6 903.7,240.7 891.7,248.5" fill="#3d342d" stroke="#3d342d" stroke-width="0.4"/><polygon points="886.2,251.3 891.7,252.4 891.7,248.5 886.3,247.4" fill="#5e5046" stroke="#5e5046" stroke-width="0.4"/><polygon points="886.3,247.4 891.7,248.5 903.7,240.7 898.3,239.6" fill="#4d4239" stroke="#4d4239" stroke-width="0.4"/><polygon points="739.8,125.7 752.6,118.6 752.5,112.6 739.7,119.7" fill="#3f3c44" stroke="#3f3c44" stroke-width="0.4"/><polygon points="734.5,124.7 739.8,125.7 739.7,119.7 734.4,118.6" fill="#c4bcd4" stroke="#c4bcd4" stroke-width="0.4"/><polygon points="734.4,118.6 739.7,119.7 752.5,112.6 747.2,111.5" fill="#858090" stroke="#858090" stroke-width="0.4"/><polygon points="712.9,103.9 725.9,96.9 725.7,90.9 712.8,97.9" fill="#3f3c44" stroke="#3f3c44" stroke-width="0.4"/><polygon points="707.6,102.9 712.9,103.9 712.8,97.9 707.5,96.9" fill="#c4bcd4" stroke="#c4bcd4" stroke-width="0.4"/><polygon points="707.5,96.9 712.8,97.9 725.7,90.9 720.5,89.9" fill="#858090" stroke="#858090" stroke-width="0.4"/><polygon points="719.3,107.4 732.3,100.4 732.1,94.4 719.2,101.4" fill="#3f3c44" stroke="#3f3c44" stroke-width="0.4"/><polygon points="714.0,106.4 719.3,107.4 719.2,101.4 713.9,100.4" fill="#c4bcd4" stroke="#c4bcd4" stroke-width="0.4"/><polygon points="713.9,100.4 719.2,101.4 732.1,94.4 726.8,93.4" fill="#858090" stroke="#858090" stroke-width="0.4"/><polygon points="899.7,250.4 911.6,242.6 911.7,238.7 899.8,246.5" fill="#3d342d" stroke="#3d342d" stroke-width="0.4"/><polygon points="894.2,249.3 899.7,250.4 899.8,246.5 894.3,245.4" fill="#5e5046" stroke="#5e5046" stroke-width="0.4"/><polygon points="894.3,245.4 899.8,246.5 911.7,238.7 906.3,237.6" fill="#4d4239" stroke="#4d4239" stroke-width="0.4"/><polygon points="859.8,217.5 872.0,209.9 872.0,206.0 859.8,213.6" fill="#401743" stroke="#401743" stroke-width="0.4"/><polygon points="854.4,216.4 859.8,217.5 859.8,213.6 854.4,212.5" fill="#c848d0" stroke="#c848d0" stroke-width="0.4"/><polygon points="854.4,212.5 859.8,213.6 872.0,206.0 866.6,204.9" fill="#88318d" stroke="#88318d" stroke-width="0.4"/><polygon points="734.4,117.6 747.2,110.5 747.1,104.5 734.3,111.5" fill="#3f3c44" stroke="#3f3c44" stroke-width="0.4"/><polygon points="729.1,116.6 734.4,117.6 734.3,111.5 728.9,110.5" fill="#c4bcd4" stroke="#c4bcd4" stroke-width="0.4"/><polygon points="728.9,110.5 734.3,111.5 747.1,104.5 741.8,103.5" fill="#858090" stroke="#858090" stroke-width="0.4"/><polygon points="729.0,109.3 741.8,102.2 741.7,96.2 728.8,103.2" fill="#3f3c44" stroke="#3f3c44" stroke-width="0.4"/><polygon points="723.6,108.2 729.0,109.3 728.8,103.2 723.5,102.2" fill="#c4bcd4" stroke="#c4bcd4" stroke-width="0.4"/><polygon points="723.5,102.2 728.8,103.2 741.7,96.2 736.4,95.2" fill="#858090" stroke="#858090" stroke-width="0.4"/><polygon points="754.6,128.9 767.4,121.8 767.3,115.7 754.5,122.9" fill="#3f3c44" stroke="#3f3c44" stroke-width="0.4"/><polygon points="749.3,127.9 754.6,128.9 754.5,122.9 749.2,121.8" fill="#c4bcd4" stroke="#c4bcd4" stroke-width="0.4"/><polygon points="749.2,121.8 754.5,122.9 767.3,115.7 762.0,114.7" fill="#858090" stroke="#858090" stroke-width="0.4"/><polygon points="765.4,134.8 778.1,127.6 778.1,121.6 765.4,128.8" fill="#3f3c44" stroke="#3f3c44" stroke-width="0.4"/><polygon points="760.1,133.8 765.4,134.8 765.4,128.8 760.0,127.8" fill="#c4bcd4" stroke="#c4bcd4" stroke-width="0.4"/><polygon points="760.0,127.8 765.4,128.8 778.1,121.6 772.7,120.6" fill="#858090" stroke="#858090" stroke-width="0.4"/><polygon points="775.7,142.2 788.3,135.0 788.3,129.0 775.6,136.2" fill="#3f3c44" stroke="#3f3c44" stroke-width="0.4"/><polygon points="770.3,141.2 775.7,142.2 775.6,136.2 770.2,135.2" fill="#c4bcd4" stroke="#c4bcd4" stroke-width="0.4"/><polygon points="770.2,135.2 775.6,136.2 788.3,129.0 782.9,128.0" fill="#858090" stroke="#858090" stroke-width="0.4"/><polygon points="643.5,104.8 656.8,97.7 656.6,91.7 643.2,98.7" fill="#3f3c44" stroke="#3f3c44" stroke-width="0.4"/><polygon points="638.2,103.7 643.5,104.8 643.2,98.7 637.9,97.7" fill="#c4bcd4" stroke="#c4bcd4" stroke-width="0.4"/><polygon points="637.9,97.7 643.2,98.7 656.6,91.7 651.3,90.7" fill="#858090" stroke="#858090" stroke-width="0.4"/><polygon points="743.0,111.8 755.8,104.7 755.7,98.7 742.9,105.7" fill="#3f3c44" stroke="#3f3c44" stroke-width="0.4"/><polygon points="737.6,110.8 743.0,111.8 742.9,105.7 737.5,104.7" fill="#c4bcd4" stroke="#c4bcd4" stroke-width="0.4"/><polygon points="737.5,104.7 742.9,105.7 755.7,98.7 750.4,97.7" fill="#858090" stroke="#858090" stroke-width="0.4"/><polygon points="881.6,217.4 893.7,209.7 893.8,205.8 881.7,213.4" fill="#401743" stroke="#401743" stroke-width="0.4"/><polygon points="876.2,216.3 881.6,217.4 881.7,213.4 876.2,212.3" fill="#c848d0" stroke="#c848d0" stroke-width="0.4"/><polygon points="876.2,212.3 881.7,213.4 893.8,205.8 888.4,204.7" fill="#88318d" stroke="#88318d" stroke-width="0.4"/><polygon points="809.8,158.9 822.3,151.6 822.3,147.6 809.8,154.9" fill="#263a2d" stroke="#263a2d" stroke-width="0.4"/><polygon points="804.4,157.8 809.8,158.9 809.8,154.9 804.4,153.8" fill="#78b48c" stroke="#78b48c" stroke-width="0.4"/><polygon points="804.4,153.8 809.8,154.9 822.3,147.6 816.9,146.5" fill="#527a5f" stroke="#527a5f" stroke-width="0.4"/><polygon points="640.0,93.0 653.4,86.1 653.2,80.0 639.8,86.9" fill="#3f3c44" stroke="#3f3c44" stroke-width="0.4"/><polygon points="634.8,92.0 640.0,93.0 639.8,86.9 634.5,85.9" fill="#c4bcd4" stroke="#c4bcd4" stroke-width="0.4"/><polygon points="634.5,85.9 639.8,86.9 653.2,80.0 647.9,79.0" fill="#858090" stroke="#858090" stroke-width="0.4"/><polygon points="756.4,115.0 769.2,107.9 769.1,101.8 756.3,108.9" fill="#3f3c44" stroke="#3f3c44" stroke-width="0.4"/><polygon points="751.0,114.0 756.4,115.0 756.3,108.9 751.0,107.9" fill="#c4bcd4" stroke="#c4bcd4" stroke-width="0.4"/><polygon points="751.0,107.9 756.3,108.9 769.1,101.8 763.8,100.8" fill="#858090" stroke="#858090" stroke-width="0.4"/><polygon points="876.6,209.3 888.8,201.7 888.8,197.8 876.7,205.4" fill="#401743" stroke="#401743" stroke-width="0.4"/><polygon points="871.1,208.2 876.6,209.3 876.7,205.4 871.2,204.3" fill="#c848d0" stroke="#c848d0" stroke-width="0.4"/><polygon points="871.2,204.3 876.7,205.4 888.8,197.8 883.4,196.7" fill="#88318d" stroke="#88318d" stroke-width="0.4"/><polygon points="828.5,170.2 840.9,162.8 840.9,158.8 828.5,166.2" fill="#263a2d" stroke="#263a2d" stroke-width="0.4"/><polygon points="823.1,169.2 828.5,170.2 828.5,166.2 823.1,165.2" fill="#78b48c" stroke="#78b48c" stroke-width="0.4"/><polygon points="823.1,165.2 828.5,166.2 840.9,158.8 835.5,157.8" fill="#527a5f" stroke="#527a5f" stroke-width="0.4"/><polygon points="902.7,229.4 914.7,221.7 914.8,217.7 902.8,225.4" fill="#3d342d" stroke="#3d342d" stroke-width="0.4"/><polygon points="897.2,228.3 902.7,229.4 902.8,225.4 897.3,224.3" fill="#5e5046" stroke="#5e5046" stroke-width="0.4"/><polygon points="897.3,224.3 902.8,225.4 914.8,217.7 909.3,216.6" fill="#4d4239" stroke="#4d4239" stroke-width="0.4"/><polygon points="883.0,212.4 895.1,204.8 895.2,200.9 883.1,208.5" fill="#401743" stroke="#401743" stroke-width="0.4"/><polygon points="877.6,211.4 883.0,212.4 883.1,208.5 877.6,207.4" fill="#c848d0" stroke="#c848d0" stroke-width="0.4"/><polygon points="877.6,207.4 883.1,208.5 895.2,200.9 889.8,199.8" fill="#88318d" stroke="#88318d" stroke-width="0.4"/><polygon points="783.7,133.2 796.3,126.0 796.3,120.0 783.6,127.2" fill="#3f3c44" stroke="#3f3c44" stroke-width="0.4"/><polygon points="778.3,132.2 783.7,133.2 783.6,127.2 778.2,126.2" fill="#c4bcd4" stroke="#c4bcd4" stroke-width="0.4"/><polygon points="778.2,126.2 783.6,127.2 796.3,120.0 790.9,119.0" fill="#858090" stroke="#858090" stroke-width="0.4"/><polygon points="824.8,164.8 837.2,157.4 837.2,153.5 824.8,160.8" fill="#263a2d" stroke="#263a2d" stroke-width="0.4"/><polygon points="819.3,163.8 824.8,164.8 824.8,160.8 819.4,159.8" fill="#78b48c" stroke="#78b48c" stroke-width="0.4"/><polygon points="819.4,159.8 824.8,160.8 837.2,153.5 831.8,152.4" fill="#527a5f" stroke="#527a5f" stroke-width="0.4"/><polygon points="886.7,214.3 898.8,206.6 898.9,202.7 886.8,210.3" fill="#401743" stroke="#401743" stroke-width="0.4"/><polygon points="881.3,213.2 886.7,214.3 886.8,210.3 881.3,209.2" fill="#c848d0" stroke="#c848d0" stroke-width="0.4"/><polygon points="881.3,209.2 886.8,210.3 898.9,202.7 893.5,201.6" fill="#88318d" stroke="#88318d" stroke-width="0.4"/><polygon points="871.6,199.3 883.8,191.7 883.8,187.8 871.6,195.3" fill="#401743" stroke="#401743" stroke-width="0.4"/><polygon points="866.1,198.2 871.6,199.3 871.6,195.3 866.2,194.3" fill="#c848d0" stroke="#c848d0" stroke-width="0.4"/><polygon points="866.2,194.3 871.6,195.3 883.8,187.8 878.4,186.7" fill="#88318d" stroke="#88318d" stroke-width="0.4"/><polygon points="892.6,215.4 904.7,207.7 904.8,203.8 892.7,211.4" fill="#401743" stroke="#401743" stroke-width="0.4"/><polygon points="887.2,214.3 892.6,215.4 892.7,211.4 887.2,210.3" fill="#c848d0" stroke="#c848d0" stroke-width="0.4"/><polygon points="887.2,210.3 892.7,211.4 904.8,203.8 899.3,202.7" fill="#88318d" stroke="#88318d" stroke-width="0.4"/><polygon points="770.2,117.2 783.0,110.1 782.9,104.0 770.2,111.1" fill="#3f3c44" stroke="#3f3c44" stroke-width="0.4"/><polygon points="764.9,116.2 770.2,117.2 770.2,111.1 764.8,110.1" fill="#c4bcd4" stroke="#c4bcd4" stroke-width="0.4"/><polygon points="764.8,110.1 770.2,111.1 782.9,104.0 777.5,103.0" fill="#858090" stroke="#858090" stroke-width="0.4"/><polygon points="878.2,201.5 890.4,193.9 890.4,190.0 878.3,197.6" fill="#401743" stroke="#401743" stroke-width="0.4"/><polygon points="872.7,200.4 878.2,201.5 878.3,197.6 872.8,196.5" fill="#c848d0" stroke="#c848d0" stroke-width="0.4"/><polygon points="872.8,196.5 878.3,197.6 890.4,190.0 885.0,188.9" fill="#88318d" stroke="#88318d" stroke-width="0.4"/><polygon points="798.6,138.1 811.2,130.8 811.2,124.8 798.6,132.0" fill="#3f3c44" stroke="#3f3c44" stroke-width="0.4"/><polygon points="793.2,137.0 798.6,138.1 798.6,132.0 793.2,131.0" fill="#c4bcd4" stroke="#c4bcd4" stroke-width="0.4"/><polygon points="793.2,131.0 798.6,132.0 811.2,124.8 805.8,123.8" fill="#858090" stroke="#858090" stroke-width="0.4"/><polygon points="837.6,165.9 850.0,158.5 850.0,154.5 837.6,161.9" fill="#263a2d" stroke="#263a2d" stroke-width="0.4"/><polygon points="832.2,164.9 837.6,165.9 837.6,161.9 832.2,160.9" fill="#78b48c" stroke="#78b48c" stroke-width="0.4"/><polygon points="832.2,160.9 837.6,161.9 850.0,154.5 844.6,153.5" fill="#527a5f" stroke="#527a5f" stroke-width="0.4"/><polygon points="889.6,207.3 901.7,199.7 901.8,195.8 889.7,203.4" fill="#401743" stroke="#401743" stroke-width="0.4"/><polygon points="884.1,206.3 889.6,207.3 889.7,203.4 884.2,202.3" fill="#c848d0" stroke="#c848d0" stroke-width="0.4"/><polygon points="884.2,202.3 889.7,203.4 901.8,195.8 896.4,194.7" fill="#88318d" stroke="#88318d" stroke-width="0.4"/><polygon points="632.2,105.1 645.7,98.0 645.5,91.9 631.9,99.0" fill="#3f3c44" stroke="#3f3c44" stroke-width="0.4"/><polygon points="626.9,104.1 632.2,105.1 631.9,99.0 626.7,98.0" fill="#c4bcd4" stroke="#c4bcd4" stroke-width="0.4"/><polygon points="626.7,98.0 631.9,99.0 645.5,91.9 640.2,90.9" fill="#858090" stroke="#858090" stroke-width="0.4"/><polygon points="781.5,118.8 794.1,111.7 794.1,105.6 781.4,112.7" fill="#3f3c44" stroke="#3f3c44" stroke-width="0.4"/><polygon points="776.1,117.8 781.5,118.8 781.4,112.7 776.0,111.7" fill="#c4bcd4" stroke="#c4bcd4" stroke-width="0.4"/><polygon points="776.0,111.7 781.4,112.7 794.1,105.6 788.7,104.6" fill="#858090" stroke="#858090" stroke-width="0.4"/><polygon points="828.0,156.2 840.4,148.9 840.4,142.9 828.0,150.2" fill="#3f3c44" stroke="#3f3c44" stroke-width="0.4"/><polygon points="822.5,155.2 828.0,156.2 828.0,150.2 822.5,149.1" fill="#c4bcd4" stroke="#c4bcd4" stroke-width="0.4"/><polygon points="822.5,149.1 828.0,150.2 840.4,142.9 835.0,141.8" fill="#858090" stroke="#858090" stroke-width="0.4"/><polygon points="884.6,197.3 896.8,189.8 896.8,185.8 884.7,193.3" fill="#401743" stroke="#401743" stroke-width="0.4"/><polygon points="879.1,196.2 884.6,197.3 884.7,193.3 879.2,192.3" fill="#c848d0" stroke="#c848d0" stroke-width="0.4"/><polygon points="879.2,192.3 884.7,193.3 896.8,185.8 891.4,184.7" fill="#88318d" stroke="#88318d" stroke-width="0.4"/><polygon points="902.4,208.3 914.4,200.6 914.5,196.7 902.4,204.3" fill="#401743" stroke="#401743" stroke-width="0.4"/><polygon points="896.9,207.2 902.4,208.3 902.4,204.3 896.9,203.2" fill="#c848d0" stroke="#c848d0" stroke-width="0.4"/><polygon points="896.9,203.2 902.4,204.3 914.5,196.7 909.0,195.6" fill="#88318d" stroke="#88318d" stroke-width="0.4"/><polygon points="794.9,121.7 807.5,114.5 807.5,108.4 794.9,115.6" fill="#3f3c44" stroke="#3f3c44" stroke-width="0.4"/><polygon points="789.5,120.6 794.9,121.7 794.9,115.6 789.4,114.5" fill="#c4bcd4" stroke="#c4bcd4" stroke-width="0.4"/><polygon points="789.4,114.5 794.9,115.6 807.5,108.4 802.1,107.4" fill="#858090" stroke="#858090" stroke-width="0.4"/><polygon points="901.7,205.4 913.7,197.7 913.8,193.8 901.7,201.4" fill="#401743" stroke="#401743" stroke-width="0.4"/><polygon points="896.1,204.3 901.7,205.4 901.7,201.4 896.2,200.3" fill="#c848d0" stroke="#c848d0" stroke-width="0.4"/><polygon points="896.2,200.3 901.7,201.4 913.8,193.8 908.3,192.7" fill="#88318d" stroke="#88318d" stroke-width="0.4"/><polygon points="815.7,137.0 828.3,129.7 828.3,123.7 815.7,130.9" fill="#3f3c44" stroke="#3f3c44" stroke-width="0.4"/><polygon points="810.3,135.9 815.7,137.0 815.7,130.9 810.3,129.9" fill="#c4bcd4" stroke="#c4bcd4" stroke-width="0.4"/><polygon points="810.3,129.9 815.7,130.9 828.3,123.7 822.9,122.6" fill="#858090" stroke="#858090" stroke-width="0.4"/><polygon points="898.7,202.2 910.8,194.5 910.9,190.6 898.8,198.2" fill="#401743" stroke="#401743" stroke-width="0.4"/><polygon points="893.2,201.1 898.7,202.2 898.8,198.2 893.3,197.1" fill="#c848d0" stroke="#c848d0" stroke-width="0.4"/><polygon points="893.3,197.1 898.8,198.2 910.9,190.6 905.4,189.5" fill="#88318d" stroke="#88318d" stroke-width="0.4"/><polygon points="825.3,141.3 837.8,134.0 837.9,128.0 825.4,135.2" fill="#3f3c44" stroke="#3f3c44" stroke-width="0.4"/><polygon points="819.9,140.3 825.3,141.3 825.4,135.2 819.9,134.2" fill="#c4bcd4" stroke="#c4bcd4" stroke-width="0.4"/><polygon points="819.9,134.2 825.4,135.2 837.9,128.0 832.4,126.9" fill="#858090" stroke="#858090" stroke-width="0.4"/><polygon points="896.6,196.3 908.8,188.8 908.8,184.8 896.7,192.3" fill="#401743" stroke="#401743" stroke-width="0.4"/><polygon points="891.1,195.3 896.6,196.3 896.7,192.3 891.2,191.3" fill="#c848d0" stroke="#c848d0" stroke-width="0.4"/><polygon points="891.2,191.3 896.7,192.3 908.8,184.8 903.3,183.7" fill="#88318d" stroke="#88318d" stroke-width="0.4"/><polygon points="837.1,147.7 849.5,140.4 849.6,134.3 837.1,141.7" fill="#3f3c44" stroke="#3f3c44" stroke-width="0.4"/><polygon points="831.6,146.7 837.1,147.7 837.1,141.7 831.6,140.6" fill="#c4bcd4" stroke="#c4bcd4" stroke-width="0.4"/><polygon points="831.6,140.6 837.1,141.7 849.6,134.3 844.1,133.3" fill="#858090" stroke="#858090" stroke-width="0.4"/><polygon points="844.6,153.0 857.0,145.7 857.1,139.6 844.6,147.0" fill="#3f3c44" stroke="#3f3c44" stroke-width="0.4"/><polygon points="839.1,152.0 844.6,153.0 844.6,147.0 839.2,145.9" fill="#c4bcd4" stroke="#c4bcd4" stroke-width="0.4"/><polygon points="839.2,145.9 844.6,147.0 857.1,139.6 851.6,138.6" fill="#858090" stroke="#858090" stroke-width="0.4"/><polygon points="809.8,124.7 822.4,117.5 822.4,111.4 809.8,118.6" fill="#3f3c44" stroke="#3f3c44" stroke-width="0.4"/><polygon points="804.4,123.6 809.8,124.7 809.8,118.6 804.3,117.5" fill="#c4bcd4" stroke="#c4bcd4" stroke-width="0.4"/><polygon points="804.3,117.5 809.8,118.6 822.4,111.4 817.0,110.4" fill="#858090" stroke="#858090" stroke-width="0.4"/><polygon points="849.0,150.8 861.4,143.5 861.5,137.4 849.0,144.8" fill="#3f3c44" stroke="#3f3c44" stroke-width="0.4"/><polygon points="843.5,149.8 849.0,150.8 849.0,144.8 843.6,143.7" fill="#c4bcd4" stroke="#c4bcd4" stroke-width="0.4"/><polygon points="843.6,143.7 849.0,144.8 861.5,137.4 856.0,136.4" fill="#858090" stroke="#858090" stroke-width="0.4"/><polygon points="822.1,127.9 834.7,120.7 834.7,114.6 822.1,121.8" fill="#3f3c44" stroke="#3f3c44" stroke-width="0.4"/><polygon points="816.7,126.9 822.1,127.9 822.1,121.8 816.7,120.7" fill="#c4bcd4" stroke="#c4bcd4" stroke-width="0.4"/><polygon points="816.7,120.7 822.1,121.8 834.7,114.6 829.3,113.5" fill="#858090" stroke="#858090" stroke-width="0.4"/><polygon points="908.7,194.4 920.7,186.8 920.8,182.8 908.7,190.3" fill="#401743" stroke="#401743" stroke-width="0.4"/><polygon points="903.1,193.3 908.7,194.4 908.7,190.3 903.2,189.3" fill="#c848d0" stroke="#c848d0" stroke-width="0.4"/><polygon points="903.2,189.3 908.7,190.3 920.8,182.8 915.3,181.7" fill="#88318d" stroke="#88318d" stroke-width="0.4"/><polygon points="865.8,160.8 878.1,153.4 878.2,147.3 865.9,154.7" fill="#3f3c44" stroke="#3f3c44" stroke-width="0.4"/><polygon points="860.3,159.7 865.8,160.8 865.9,154.7 860.4,153.6" fill="#c4bcd4" stroke="#c4bcd4" stroke-width="0.4"/><polygon points="860.4,153.6 865.9,154.7 878.2,147.3 872.8,146.3" fill="#858090" stroke="#858090" stroke-width="0.4"/><polygon points="857.7,153.4 870.1,146.0 870.2,139.9 857.8,147.3" fill="#3f3c44" stroke="#3f3c44" stroke-width="0.4"/><polygon points="852.2,152.3 857.7,153.4 857.8,147.3 852.3,146.2" fill="#c4bcd4" stroke="#c4bcd4" stroke-width="0.4"/><polygon points="852.3,146.2 857.8,147.3 870.2,139.9 864.7,138.9" fill="#858090" stroke="#858090" stroke-width="0.4"/><polygon points="913.9,196.2 925.9,188.5 926.0,184.5 914.0,192.2" fill="#401743" stroke="#401743" stroke-width="0.4"/><polygon points="908.3,195.1 913.9,196.2 914.0,192.2 908.4,191.1" fill="#c848d0" stroke="#c848d0" stroke-width="0.4"/><polygon points="908.4,191.1 914.0,192.2 926.0,184.5 920.5,183.5" fill="#88318d" stroke="#88318d" stroke-width="0.4"/><polygon points="916.7,197.4 928.7,189.7 928.8,185.7 916.8,193.4" fill="#401743" stroke="#401743" stroke-width="0.4"/><polygon points="911.1,196.3 916.7,197.4 916.8,193.4 911.2,192.3" fill="#c848d0" stroke="#c848d0" stroke-width="0.4"/><polygon points="911.2,192.3 916.8,193.4 928.8,185.7 923.3,184.7" fill="#88318d" stroke="#88318d" stroke-width="0.4"/><polygon points="839.8,130.6 852.2,123.3 852.3,117.2 839.8,124.5" fill="#3f3c44" stroke="#3f3c44" stroke-width="0.4"/><polygon points="834.3,129.6 839.8,130.6 839.8,124.5 834.3,123.5" fill="#c4bcd4" stroke="#c4bcd4" stroke-width="0.4"/><polygon points="834.3,123.5 839.8,124.5 852.3,117.2 846.8,116.2" fill="#858090" stroke="#858090" stroke-width="0.4"/><polygon points="847.8,134.9 860.2,127.6 860.3,121.5 847.8,128.8" fill="#3f3c44" stroke="#3f3c44" stroke-width="0.4"/><polygon points="842.3,133.9 847.8,134.9 847.8,128.8 842.3,127.8" fill="#c4bcd4" stroke="#c4bcd4" stroke-width="0.4"/><polygon points="842.3,127.8 847.8,128.8 860.3,121.5 854.8,120.5" fill="#858090" stroke="#858090" stroke-width="0.4"/><polygon points="935.3,203.1 947.3,195.4 947.4,191.4 935.4,199.1" fill="#401743" stroke="#401743" stroke-width="0.4"/><polygon points="929.7,202.0 935.3,203.1 935.4,199.1 929.9,198.0" fill="#c848d0" stroke="#c848d0" stroke-width="0.4"/><polygon points="929.9,198.0 935.4,199.1 947.4,191.4 941.9,190.3" fill="#88318d" stroke="#88318d" stroke-width="0.4"/><polygon points="851.5,132.1 863.9,124.8 864.0,118.7 851.5,126.0" fill="#3f3c44" stroke="#3f3c44" stroke-width="0.4"/><polygon points="846.0,131.1 851.5,132.1 851.5,126.0 846.0,125.0" fill="#c4bcd4" stroke="#c4bcd4" stroke-width="0.4"/><polygon points="846.0,125.0 851.5,126.0 864.0,118.7 858.5,117.7" fill="#858090" stroke="#858090" stroke-width="0.4"/><polygon points="880.6,154.3 892.8,146.9 892.9,140.8 880.6,148.2" fill="#3f3c44" stroke="#3f3c44" stroke-width="0.4"/><polygon points="875.0,153.2 880.6,154.3 880.6,148.2 875.1,147.1" fill="#c4bcd4" stroke="#c4bcd4" stroke-width="0.4"/><polygon points="875.1,147.1 880.6,148.2 892.9,140.8 887.4,139.7" fill="#858090" stroke="#858090" stroke-width="0.4"/><polygon points="876.5,143.3 888.9,135.9 889.0,129.8 876.6,137.1" fill="#3f3c44" stroke="#3f3c44" stroke-width="0.4"/><polygon points="871.0,142.2 876.5,143.3 876.6,137.1 871.1,136.1" fill="#c4bcd4" stroke="#c4bcd4" stroke-width="0.4"/><polygon points="871.1,136.1 876.6,137.1 889.0,129.8 883.4,128.8" fill="#858090" stroke="#858090" stroke-width="0.4"/><polygon points="868.3,135.9 880.7,128.5 880.8,122.4 868.4,129.7" fill="#3f3c44" stroke="#3f3c44" stroke-width="0.4"/><polygon points="862.8,134.8 868.3,135.9 868.4,129.7 862.8,128.7" fill="#c4bcd4" stroke="#c4bcd4" stroke-width="0.4"/><polygon points="862.8,128.7 868.4,129.7 880.8,122.4 875.3,121.4" fill="#858090" stroke="#858090" stroke-width="0.4"/><polygon points="890.1,152.1 902.3,144.7 902.5,138.6 890.2,146.0" fill="#3f3c44" stroke="#3f3c44" stroke-width="0.4"/><polygon points="884.5,151.0 890.1,152.1 890.2,146.0 884.6,144.9" fill="#c4bcd4" stroke="#c4bcd4" stroke-width="0.4"/><polygon points="884.6,144.9 890.2,146.0 902.5,138.6 896.9,137.5" fill="#858090" stroke="#858090" stroke-width="0.4"/><polygon points="901.3,160.8 913.5,153.4 913.6,147.3 901.4,154.7" fill="#3f3c44" stroke="#3f3c44" stroke-width="0.4"/><polygon points="895.7,159.8 901.3,160.8 901.4,154.7 895.8,153.6" fill="#c4bcd4" stroke="#c4bcd4" stroke-width="0.4"/><polygon points="895.8,153.6 901.4,154.7 913.6,147.3 908.1,146.2" fill="#858090" stroke="#858090" stroke-width="0.4"/><polygon points="884.6,140.3 896.9,132.9 897.0,126.8 884.6,134.1" fill="#3f3c44" stroke="#3f3c44" stroke-width="0.4"/><polygon points="879.0,139.2 884.6,140.3 884.6,134.1 879.1,133.1" fill="#c4bcd4" stroke="#c4bcd4" stroke-width="0.4"/><polygon points="879.1,133.1 884.6,134.1 897.0,126.8 891.4,125.7" fill="#858090" stroke="#858090" stroke-width="0.4"/><polygon points="909.6,158.1 921.8,150.7 921.9,145.0 909.7,152.4" fill="#30272d" stroke="#30272d" stroke-width="0.4"/><polygon points="904.0,157.1 909.6,158.1 909.7,152.4 904.1,151.3" fill="#957a8e" stroke="#957a8e" stroke-width="0.4"/><polygon points="904.1,151.3 909.7,152.4 921.9,145.0 916.4,143.9" fill="#655361" stroke="#655361" stroke-width="0.4"/><polygon points="892.6,140.9 904.9,133.5 905.0,127.4 892.7,134.7" fill="#3f3c44" stroke="#3f3c44" stroke-width="0.4"/><polygon points="887.0,139.8 892.6,140.9 892.7,134.7 887.1,133.7" fill="#c4bcd4" stroke="#c4bcd4" stroke-width="0.4"/><polygon points="887.1,133.7 892.7,134.7 905.0,127.4 899.4,126.3" fill="#858090" stroke="#858090" stroke-width="0.4"/><polygon points="906.6,149.3 918.8,141.9 919.0,135.8 906.7,143.2" fill="#3f3c44" stroke="#3f3c44" stroke-width="0.4"/><polygon points="901.0,148.3 906.6,149.3 906.7,143.2 901.1,142.1" fill="#c4bcd4" stroke="#c4bcd4" stroke-width="0.4"/><polygon points="901.1,142.1 906.7,143.2 919.0,135.8 913.4,134.7" fill="#858090" stroke="#858090" stroke-width="0.4"/><polygon points="915.0,153.2 927.2,145.8 927.3,140.1 915.1,147.5" fill="#30272d" stroke="#30272d" stroke-width="0.4"/><polygon points="909.4,152.2 915.0,153.2 915.1,147.5 909.5,146.4" fill="#957a8e" stroke="#957a8e" stroke-width="0.4"/><polygon points="909.5,146.4 915.1,147.5 927.3,140.1 921.8,139.0" fill="#655361" stroke="#655361" stroke-width="0.4"/><polygon points="922.6,157.1 934.8,149.7 934.9,143.9 922.8,151.4" fill="#30272d" stroke="#30272d" stroke-width="0.4"/><polygon points="917.0,156.1 922.6,157.1 922.8,151.4 917.2,150.3" fill="#957a8e" stroke="#957a8e" stroke-width="0.4"/><polygon points="917.2,150.3 922.8,151.4 934.9,143.9 929.3,142.9" fill="#655361" stroke="#655361" stroke-width="0.4"/><polygon points="914.4,145.1 926.6,137.7 926.8,132.0 914.5,139.4" fill="#30272d" stroke="#30272d" stroke-width="0.4"/><polygon points="908.8,144.1 914.4,145.1 914.5,139.4 908.9,138.3" fill="#957a8e" stroke="#957a8e" stroke-width="0.4"/><polygon points="908.9,138.3 914.5,139.4 926.8,132.0 921.2,130.9" fill="#655361" stroke="#655361" stroke-width="0.4"/><polygon points="934.7,154.2 946.8,146.7 946.9,140.9 934.8,148.4" fill="#30272d" stroke="#30272d" stroke-width="0.4"/><polygon points="929.0,153.1 934.7,154.2 934.8,148.4 929.2,147.3" fill="#957a8e" stroke="#957a8e" stroke-width="0.4"/><polygon points="929.2,147.3 934.8,148.4 946.9,140.9 941.3,139.9" fill="#655361" stroke="#655361" stroke-width="0.4"/><polygon points="944.7,156.2 956.8,148.7 956.9,142.9 944.8,150.4" fill="#30272d" stroke="#30272d" stroke-width="0.4"/><polygon points="939.0,155.1 944.7,156.2 944.8,150.4 939.2,149.3" fill="#957a8e" stroke="#957a8e" stroke-width="0.4"/><polygon points="939.2,149.3 944.8,150.4 956.9,142.9 951.3,141.9" fill="#655361" stroke="#655361" stroke-width="0.4"/><polygon points="931.2,144.5 943.4,137.1 943.6,131.3 931.4,138.8" fill="#30272d" stroke="#30272d" stroke-width="0.4"/><polygon points="925.6,143.5 931.2,144.5 931.4,138.8 925.8,137.7" fill="#957a8e" stroke="#957a8e" stroke-width="0.4"/><polygon points="925.8,137.7 931.4,138.8 943.6,131.3 937.9,130.3" fill="#655361" stroke="#655361" stroke-width="0.4"/><polygon points="941.3,146.8 953.4,139.3 953.6,133.5 941.4,141.0" fill="#30272d" stroke="#30272d" stroke-width="0.4"/><polygon points="935.6,145.7 941.3,146.8 941.4,141.0 935.8,139.9" fill="#957a8e" stroke="#957a8e" stroke-width="0.4"/><polygon points="935.8,139.9 941.4,141.0 953.6,133.5 947.9,132.5" fill="#655361" stroke="#655361" stroke-width="0.4"/><polygon points="949.3,148.9 961.4,141.4 961.6,135.6 949.5,143.1" fill="#30272d" stroke="#30272d" stroke-width="0.4"/><polygon points="943.6,147.8 949.3,148.9 949.5,143.1 943.8,142.0" fill="#957a8e" stroke="#957a8e" stroke-width="0.4"/><polygon points="943.8,142.0 949.5,143.1 961.6,135.6 955.9,134.6" fill="#655361" stroke="#655361" stroke-width="0.4"/><polygon points="958.1,150.8 970.1,143.3 970.3,137.5 958.3,145.0" fill="#30272d" stroke="#30272d" stroke-width="0.4"/><polygon points="952.4,149.7 958.1,150.8 958.3,145.0 952.6,143.9" fill="#957a8e" stroke="#957a8e" stroke-width="0.4"/><polygon points="952.6,143.9 958.3,145.0 970.3,137.5 964.7,136.4" fill="#655361" stroke="#655361" stroke-width="0.4"/><polygon points="966.1,145.8 978.1,138.3 978.4,132.5 966.3,140.0" fill="#30272d" stroke="#30272d" stroke-width="0.4"/><polygon points="960.4,144.7 966.1,145.8 966.3,140.0 960.6,138.9" fill="#957a8e" stroke="#957a8e" stroke-width="0.4"/><polygon points="960.6,138.9 966.3,140.0 978.4,132.5 972.7,131.4" fill="#655361" stroke="#655361" stroke-width="0.4"/></g>
<polyline points="576.8,316.3 883.8,385.3 1048.4,269.1 1060.1,57.6" stroke="#000" stroke-width="2" fill="none" stroke-linejoin="miter"/>
<path d="M596.1 322.0L599.6 319.8 M628.3 329.2L631.8 327.1 M660.8 336.5L664.3 334.4 M693.7 343.9L697.1 341.7 M726.8 351.4L730.2 349.2 M760.3 358.9L763.7 356.7 M794.1 366.5L797.4 364.3 M828.2 374.2L831.5 371.9 M862.7 381.9L866.0 379.6 M903.5 373.8L897.7 372.5 M931.2 354.2L925.4 353.0 M958.3 335.1L952.5 333.9 M984.7 316.5L979.0 315.2 M1010.4 298.2L1004.8 297.1 M1035.6 280.5L1030.0 279.3 M1051.3 263.9L1043.7 262.4 M1052.6 240.7L1044.9 239.1 M1053.9 217.1L1046.2 215.6 M1055.2 193.4L1047.4 191.9 M1056.5 169.4L1048.7 167.9 M1057.9 145.0L1050.0 143.6 M1059.3 120.5L1051.4 119.0 M1060.6 95.6L1052.7 94.2 M1062.0 70.5L1054.1 69.1" stroke="#000" stroke-width="1" fill="none"/>
<g class="tl"><text x="590.1" y="342.2">-2.0</text><text x="622.3" y="349.4">-1.5</text><text x="654.8" y="356.7">-1.0</text><text x="687.6" y="364.1">-0.5</text><text x="720.8" y="371.6">0.0</text><text x="754.2" y="379.1">0.5</text><text x="788.0" y="386.7">1.0</text><text x="822.1" y="394.3">1.5</text><text x="856.6" y="402.1">2.0</text><text x="911.6" y="392.3">0.0</text><text x="939.3" y="372.8">0.13</text><text x="966.3" y="353.7">0.26</text><text x="992.8" y="335.0">0.4</text><text x="1018.6" y="316.8">0.53</text><text x="1043.7" y="299.0">0.66</text><text x="1065.2" y="271.8">-2.0</text><text x="1066.5" y="248.5">-1.5</text><text x="1067.8" y="225.0">-1.0</text><text x="1069.1" y="201.3">-0.5</text><text x="1070.4" y="177.3">0.0</text><text x="1071.8" y="153.0">0.5</text><text x="1073.1" y="128.4">1.0</text><text x="1074.5" y="103.5">1.5</text><text x="1075.9" y="78.4">2.0</text></g>
<text class="al" x="705.5" y="391.2" transform="rotate(12.9 705.5 391.2)" text-anchor="middle"><tspan font-style="italic">J</tspan><tspan class="pr" dy="3">′</tspan></text>
<text class="al" x="1110.0" y="161.8" transform="rotate(-87 1110.0 161.8)" text-anchor="middle">log(<tspan font-style="italic">T</tspan><tspan class="pr">′</tspan>)</text>
<text class="al cl" transform="translate(941.0 404.3) rotate(-36)" text-anchor="middle"><tspan x="0.0" y="0.0">x</tspan><tspan x="10.7" y="0.0">(</tspan><tspan x="20.6" y="0.0">A</tspan><tspan x="31.7" y="5.0" class="sb">1</tspan><tspan x="43.6" y="5.0" class="sb">+</tspan><tspan x="58.6" y="5.0" class="sb">x</tspan><tspan x="78.0" y="0.0">B</tspan><tspan x="88.8" y="5.0" class="sb">1</tspan><tspan x="102.7" y="5.0" class="sb">−</tspan><tspan x="118.0" y="5.0" class="sb">x</tspan><tspan x="136.6" y="0.0">O</tspan><tspan x="149.5" y="5.0" class="sb">2</tspan><tspan x="158.7" y="0.0">)</tspan></text></g>
<g id="pc"><polygon points="21.9,722.4 198.4,617.0 195.6,414.2 9.7,509.2" fill="#fbfbfb"/>
<polygon points="198.4,617.0 486.0,675.7 497.4,467.1 195.6,414.2" fill="#f2f2f2"/>
<polygon points="21.9,722.4 324.0,790.4 486.0,675.7 198.4,617.0" fill="#f5f5f5"/>
<path d="M218.0 621.0L216.1 417.8 M248.2 627.2L247.8 423.4 M278.8 633.4L279.8 429.0 M309.6 639.7L312.1 434.6 M340.6 646.0L344.7 440.3 M372.0 652.4L377.6 446.1 M403.6 658.9L410.8 451.9 M435.5 665.4L444.3 457.8 M467.7 672.0L478.2 463.7" stroke="#c2c2c2" stroke-width="1.2" fill="none"/>
<path d="M40.2 711.5L29.0 499.3 M69.9 693.8L60.3 483.3 M98.8 676.4L90.9 467.7 M127.2 659.5L120.7 452.5 M154.8 643.0L149.8 437.6 M181.9 626.9L178.2 423.1" stroke="#cacaca" stroke-width="1.2" stroke-dasharray="18 7" fill="none"/>
<path d="M42.4 727.0L218.0 621.0 M74.1 734.1L248.2 627.2 M106.1 741.3L278.8 633.4 M138.4 748.6L309.6 639.7 M171.0 756.0L340.6 646.0 M204.0 763.4L372.0 652.4 M237.2 770.9L403.6 658.9 M270.8 778.4L435.5 665.4 M304.7 786.1L467.7 672.0 M21.6 716.6L198.3 611.5 M20.2 693.2L198.0 589.2 M18.9 669.6L197.7 566.6 M17.5 645.6L197.4 543.8 M16.1 621.4L197.1 520.8 M14.7 596.9L196.8 497.5 M13.3 572.1L196.4 473.9 M11.9 547.0L196.1 450.1 M10.4 521.7L195.7 426.1" stroke="#c9c9c9" stroke-width="1.0" fill="none"/>
<path d="M340.8 778.5L40.2 711.5 M368.1 759.2L69.9 693.8 M394.7 740.4L98.8 676.4 M420.7 722.0L127.2 659.5 M446.1 704.0L154.8 643.0 M470.8 686.5L181.9 626.9 M198.3 611.5L486.3 670.1 M198.0 589.2L487.5 647.2 M197.7 566.6L488.8 624.0 M197.4 543.8L490.1 600.6 M197.1 520.8L491.4 576.8 M196.8 497.5L492.7 552.9 M196.4 473.9L494.1 528.6 M196.1 450.1L495.4 504.1 M195.7 426.1L496.8 479.3" stroke="#b3b3b3" stroke-width="1.2" stroke-dasharray="3.5 4" fill="none"/>
<g><polygon points="326.6,653.1 338.4,645.5 338.7,632.0 326.8,639.6" fill="#3d342d" stroke="#3d342d" stroke-width="0.4"/><polygon points="321.3,652.0 326.6,653.1 326.8,639.6 321.5,638.5" fill="#5e5046" stroke="#5e5046" stroke-width="0.4"/><polygon points="321.5,638.5 326.8,639.6 338.7,632.0 333.4,630.9" fill="#4d4239" stroke="#4d4239" stroke-width="0.4"/><polygon points="330.2,658.3 342.0,650.6 343.7,568.7 331.6,576.1" fill="#3d342d" stroke="#3d342d" stroke-width="0.4"/><polygon points="324.9,657.2 330.2,658.3 331.6,576.1 326.2,575.0" fill="#5e5046" stroke="#5e5046" stroke-width="0.4"/><polygon points="326.2,575.0 331.6,576.1 343.7,568.7 338.2,567.7" fill="#4d4239" stroke="#4d4239" stroke-width="0.4"/><polygon points="111.5,547.3 124.3,540.4 124.1,536.5 111.4,543.5" fill="#21403a" stroke="#21403a" stroke-width="0.4"/><polygon points="106.4,546.3 111.5,547.3 111.4,543.5 106.3,542.5" fill="#66c8b4" stroke="#66c8b4" stroke-width="0.4"/><polygon points="106.3,542.5 111.4,543.5 124.1,536.5 119.1,535.5" fill="#45887a" stroke="#45887a" stroke-width="0.4"/><polygon points="118.2,543.6 131.0,536.7 130.9,532.8 118.1,539.7" fill="#21403a" stroke="#21403a" stroke-width="0.4"/><polygon points="113.1,542.6 118.2,543.6 118.1,539.7 113.0,538.7" fill="#66c8b4" stroke="#66c8b4" stroke-width="0.4"/><polygon points="113.0,538.7 118.1,539.7 130.9,532.8 125.8,531.8" fill="#45887a" stroke="#45887a" stroke-width="0.4"/><polygon points="128.3,519.3 141.1,512.4 141.0,508.5 128.2,515.4" fill="#3f3c44" stroke="#3f3c44" stroke-width="0.4"/><polygon points="123.2,518.3 128.3,519.3 128.2,515.4 123.0,514.4" fill="#c4bcd4" stroke="#c4bcd4" stroke-width="0.4"/><polygon points="123.0,514.4 128.2,515.4 141.0,508.5 135.9,507.5" fill="#858090" stroke="#858090" stroke-width="0.4"/><polygon points="118.0,507.6 130.8,500.8 130.7,496.8 117.9,503.6" fill="#3f3c44" stroke="#3f3c44" stroke-width="0.4"/><polygon points="112.8,506.6 118.0,507.6 117.9,503.6 112.7,502.7" fill="#c4bcd4" stroke="#c4bcd4" stroke-width="0.4"/><polygon points="112.7,502.7 117.9,503.6 130.7,496.8 125.6,495.8" fill="#858090" stroke="#858090" stroke-width="0.4"/><polygon points="101.7,509.7 114.7,502.8 114.6,498.9 101.6,505.8" fill="#3f3c44" stroke="#3f3c44" stroke-width="0.4"/><polygon points="96.6,508.7 101.7,509.7 101.6,505.8 96.4,504.8" fill="#c4bcd4" stroke="#c4bcd4" stroke-width="0.4"/><polygon points="96.4,504.8 101.6,505.8 114.6,498.9 109.4,497.9" fill="#858090" stroke="#858090" stroke-width="0.4"/><polygon points="179.6,526.4 192.2,519.4 192.2,515.4 179.6,522.4" fill="#3f3c44" stroke="#3f3c44" stroke-width="0.4"/><polygon points="174.4,525.4 179.6,526.4 179.6,522.4 174.3,521.4" fill="#c4bcd4" stroke="#c4bcd4" stroke-width="0.4"/><polygon points="174.3,521.4 179.6,522.4 192.2,515.4 187.0,514.4" fill="#858090" stroke="#858090" stroke-width="0.4"/><polygon points="185.4,520.2 198.1,513.2 198.0,509.2 185.4,516.2" fill="#3f3c44" stroke="#3f3c44" stroke-width="0.4"/><polygon points="180.2,519.2 185.4,520.2 185.4,516.2 180.1,515.2" fill="#c4bcd4" stroke="#c4bcd4" stroke-width="0.4"/><polygon points="180.1,515.2 185.4,516.2 198.0,509.2 192.8,508.2" fill="#858090" stroke="#858090" stroke-width="0.4"/><polygon points="214.8,542.3 227.3,535.2 227.2,531.3 214.8,538.4" fill="#3f3c44" stroke="#3f3c44" stroke-width="0.4"/><polygon points="209.5,541.3 214.8,542.3 214.8,538.4 209.5,537.4" fill="#c4bcd4" stroke="#c4bcd4" stroke-width="0.4"/><polygon points="209.5,537.4 214.8,538.4 227.2,531.3 222.0,530.3" fill="#858090" stroke="#858090" stroke-width="0.4"/><polygon points="201.5,528.4 214.0,521.4 214.0,517.4 201.4,524.4" fill="#3f3c44" stroke="#3f3c44" stroke-width="0.4"/><polygon points="196.2,527.4 201.5,528.4 201.4,524.4 196.1,523.4" fill="#c4bcd4" stroke="#c4bcd4" stroke-width="0.4"/><polygon points="196.1,523.4 201.4,524.4 214.0,517.4 208.7,516.4" fill="#858090" stroke="#858090" stroke-width="0.4"/><polygon points="194.7,522.4 207.3,515.4 207.3,511.4 194.7,518.4" fill="#3f3c44" stroke="#3f3c44" stroke-width="0.4"/><polygon points="189.5,521.4 194.7,522.4 194.7,518.4 189.4,517.4" fill="#c4bcd4" stroke="#c4bcd4" stroke-width="0.4"/><polygon points="189.4,517.4 194.7,518.4 207.3,511.4 202.0,510.4" fill="#858090" stroke="#858090" stroke-width="0.4"/><polygon points="253.2,566.5 265.5,559.3 265.5,555.3 253.2,562.6" fill="#263a2d" stroke="#263a2d" stroke-width="0.4"/><polygon points="247.9,565.5 253.2,566.5 253.2,562.6 247.9,561.5" fill="#78b48c" stroke="#78b48c" stroke-width="0.4"/><polygon points="247.9,561.5 253.2,562.6 265.5,555.3 260.2,554.3" fill="#527a5f" stroke="#527a5f" stroke-width="0.4"/><polygon points="274.1,579.5 286.3,572.1 286.4,568.2 274.2,575.5" fill="#263a2d" stroke="#263a2d" stroke-width="0.4"/><polygon points="268.8,578.4 274.1,579.5 274.2,575.5 268.8,574.5" fill="#78b48c" stroke="#78b48c" stroke-width="0.4"/><polygon points="268.8,574.5 274.2,575.5 286.4,568.2 281.0,567.2" fill="#527a5f" stroke="#527a5f" stroke-width="0.4"/><polygon points="218.4,534.4 230.9,527.4 230.9,523.4 218.4,530.5" fill="#3f3c44" stroke="#3f3c44" stroke-width="0.4"/><polygon points="213.1,533.4 218.4,534.4 218.4,530.5 213.1,529.4" fill="#c4bcd4" stroke="#c4bcd4" stroke-width="0.4"/><polygon points="213.1,529.4 218.4,530.5 230.9,523.4 225.6,522.4" fill="#858090" stroke="#858090" stroke-width="0.4"/><polygon points="231.3,544.8 243.8,537.6 243.7,533.7 231.3,540.8" fill="#3f3c44" stroke="#3f3c44" stroke-width="0.4"/><polygon points="226.0,543.7 231.3,544.8 231.3,540.8 226.0,539.8" fill="#c4bcd4" stroke="#c4bcd4" stroke-width="0.4"/><polygon points="226.0,539.8 231.3,540.8 243.7,533.7 238.4,532.7" fill="#858090" stroke="#858090" stroke-width="0.4"/><polygon points="269.2,572.8 281.5,565.6 281.5,561.6 269.2,568.9" fill="#263a2d" stroke="#263a2d" stroke-width="0.4"/><polygon points="263.9,571.8 269.2,572.8 269.2,568.9 263.9,567.8" fill="#78b48c" stroke="#78b48c" stroke-width="0.4"/><polygon points="263.9,567.8 269.2,568.9 281.5,561.6 276.2,560.6" fill="#527a5f" stroke="#527a5f" stroke-width="0.4"/><polygon points="324.2,614.9 336.1,607.3 336.2,603.4 324.2,610.9" fill="#401743" stroke="#401743" stroke-width="0.4"/><polygon points="318.8,613.8 324.2,614.9 324.2,610.9 318.8,609.9" fill="#c848d0" stroke="#c848d0" stroke-width="0.4"/><polygon points="318.8,609.9 324.2,610.9 336.2,603.4 330.8,602.4" fill="#88318d" stroke="#88318d" stroke-width="0.4"/><polygon points="319.4,606.2 331.3,598.8 331.4,594.8 319.4,602.3" fill="#401743" stroke="#401743" stroke-width="0.4"/><polygon points="314.0,605.2 319.4,606.2 319.4,602.3 314.0,601.2" fill="#c848d0" stroke="#c848d0" stroke-width="0.4"/><polygon points="314.0,601.2 319.4,602.3 331.4,594.8 326.0,593.8" fill="#88318d" stroke="#88318d" stroke-width="0.4"/><polygon points="221.1,526.0 233.6,519.0 233.6,515.0 221.1,522.0" fill="#3f3c44" stroke="#3f3c44" stroke-width="0.4"/><polygon points="215.8,525.0 221.1,526.0 221.1,522.0 215.7,521.0" fill="#c4bcd4" stroke="#c4bcd4" stroke-width="0.4"/><polygon points="215.7,521.0 221.1,522.0 233.6,515.0 228.3,514.0" fill="#858090" stroke="#858090" stroke-width="0.4"/><polygon points="337.2,618.5 349.1,610.9 349.2,607.0 337.3,614.6" fill="#401743" stroke="#401743" stroke-width="0.4"/><polygon points="331.8,617.4 337.2,618.5 337.3,614.6 331.9,613.5" fill="#c848d0" stroke="#c848d0" stroke-width="0.4"/><polygon points="331.9,613.5 337.3,614.6 349.2,607.0 343.8,606.0" fill="#88318d" stroke="#88318d" stroke-width="0.4"/><polygon points="236.6,529.7 249.1,522.6 249.1,518.6 236.6,525.6" fill="#3f3c44" stroke="#3f3c44" stroke-width="0.4"/><polygon points="231.3,528.6 236.6,529.7 236.6,525.6 231.3,524.6" fill="#c4bcd4" stroke="#c4bcd4" stroke-width="0.4"/><polygon points="231.3,524.6 236.6,525.6 249.1,518.6 243.7,517.6" fill="#858090" stroke="#858090" stroke-width="0.4"/><polygon points="246.5,536.8 258.9,529.7 258.9,525.7 246.4,532.8" fill="#3f3c44" stroke="#3f3c44" stroke-width="0.4"/><polygon points="241.1,535.8 246.5,536.8 246.4,532.8 241.1,531.8" fill="#c4bcd4" stroke="#c4bcd4" stroke-width="0.4"/><polygon points="241.1,531.8 246.4,532.8 258.9,525.7 253.5,524.7" fill="#858090" stroke="#858090" stroke-width="0.4"/><polygon points="337.5,608.7 349.4,601.2 349.5,597.2 337.6,604.7" fill="#401743" stroke="#401743" stroke-width="0.4"/><polygon points="332.1,607.6 337.5,608.7 337.6,604.7 332.1,603.7" fill="#c848d0" stroke="#c848d0" stroke-width="0.4"/><polygon points="332.1,603.7 337.6,604.7 349.5,597.2 344.1,596.2" fill="#88318d" stroke="#88318d" stroke-width="0.4"/><polygon points="256.7,538.5 269.0,531.3 269.0,527.4 256.7,534.5" fill="#3f3c44" stroke="#3f3c44" stroke-width="0.4"/><polygon points="251.3,537.5 256.7,538.5 256.7,534.5 251.3,533.5" fill="#c4bcd4" stroke="#c4bcd4" stroke-width="0.4"/><polygon points="251.3,533.5 256.7,534.5 269.0,527.4 263.7,526.3" fill="#858090" stroke="#858090" stroke-width="0.4"/><polygon points="273.0,542.3 285.3,535.1 285.3,531.1 273.0,538.3" fill="#3f3c44" stroke="#3f3c44" stroke-width="0.4"/><polygon points="267.6,541.3 273.0,542.3 273.0,538.3 267.6,537.3" fill="#c4bcd4" stroke="#c4bcd4" stroke-width="0.4"/><polygon points="267.6,537.3 273.0,538.3 285.3,531.1 280.0,530.1" fill="#858090" stroke="#858090" stroke-width="0.4"/><polygon points="295.3,559.1 307.5,551.8 307.5,547.8 295.3,555.1" fill="#3f3c44" stroke="#3f3c44" stroke-width="0.4"/><polygon points="289.9,558.0 295.3,559.1 295.3,555.1 289.9,554.0" fill="#c4bcd4" stroke="#c4bcd4" stroke-width="0.4"/><polygon points="289.9,554.0 295.3,555.1 307.5,547.8 302.1,546.8" fill="#858090" stroke="#858090" stroke-width="0.4"/><polygon points="352.7,605.2 364.6,597.7 364.7,593.7 352.8,601.2" fill="#401743" stroke="#401743" stroke-width="0.4"/><polygon points="347.3,604.1 352.7,605.2 352.8,601.2 347.4,600.1" fill="#c848d0" stroke="#c848d0" stroke-width="0.4"/><polygon points="347.4,600.1 352.8,601.2 364.7,593.7 359.3,592.7" fill="#88318d" stroke="#88318d" stroke-width="0.4"/><polygon points="332.0,568.9 344.0,561.6 344.1,557.6 332.0,564.9" fill="#3f3c44" stroke="#3f3c44" stroke-width="0.4"/><polygon points="326.5,567.9 332.0,568.9 332.0,564.9 326.6,563.9" fill="#c4bcd4" stroke="#c4bcd4" stroke-width="0.4"/><polygon points="326.6,563.9 332.0,564.9 344.1,557.6 338.6,556.5" fill="#858090" stroke="#858090" stroke-width="0.4"/><polygon points="322.0,557.3 334.1,550.0 334.2,546.0 322.1,553.3" fill="#3f3c44" stroke="#3f3c44" stroke-width="0.4"/><polygon points="316.6,556.2 322.0,557.3 322.1,553.3 316.6,552.2" fill="#c4bcd4" stroke="#c4bcd4" stroke-width="0.4"/><polygon points="316.6,552.2 322.1,553.3 334.2,546.0 328.8,544.9" fill="#858090" stroke="#858090" stroke-width="0.4"/><polygon points="341.1,562.1 353.1,554.8 353.2,550.8 341.1,558.1" fill="#3f3c44" stroke="#3f3c44" stroke-width="0.4"/><polygon points="335.6,561.1 341.1,562.1 341.1,558.1 335.7,557.0" fill="#c4bcd4" stroke="#c4bcd4" stroke-width="0.4"/><polygon points="335.7,557.0 341.1,558.1 353.2,550.8 347.7,549.7" fill="#858090" stroke="#858090" stroke-width="0.4"/><polygon points="349.6,567.4 361.6,560.1 361.7,556.0 349.7,563.4" fill="#3f3c44" stroke="#3f3c44" stroke-width="0.4"/><polygon points="344.1,566.4 349.6,567.4 349.7,563.4 344.2,562.4" fill="#c4bcd4" stroke="#c4bcd4" stroke-width="0.4"/><polygon points="344.2,562.4 349.7,563.4 361.7,556.0 356.2,555.0" fill="#858090" stroke="#858090" stroke-width="0.4"/><polygon points="324.8,546.6 336.9,539.3 337.0,535.3 324.9,542.5" fill="#3f3c44" stroke="#3f3c44" stroke-width="0.4"/><polygon points="319.3,545.5 324.8,546.6 324.9,542.5 319.4,541.5" fill="#c4bcd4" stroke="#c4bcd4" stroke-width="0.4"/><polygon points="319.4,541.5 324.9,542.5 337.0,535.3 331.6,534.3" fill="#858090" stroke="#858090" stroke-width="0.4"/><polygon points="350.0,551.9 362.0,544.6 362.1,540.6 350.1,547.9" fill="#3f3c44" stroke="#3f3c44" stroke-width="0.4"/><polygon points="344.5,550.9 350.0,551.9 350.1,547.9 344.5,546.8" fill="#c4bcd4" stroke="#c4bcd4" stroke-width="0.4"/><polygon points="344.5,546.8 350.1,547.9 362.1,540.6 356.6,539.5" fill="#858090" stroke="#858090" stroke-width="0.4"/><polygon points="368.3,553.2 380.3,545.9 380.4,541.8 368.4,549.2" fill="#30272d" stroke="#30272d" stroke-width="0.4"/><polygon points="362.8,552.2 368.3,553.2 368.4,549.2 362.9,548.1" fill="#957a8e" stroke="#957a8e" stroke-width="0.4"/><polygon points="362.9,548.1 368.4,549.2 380.4,541.8 374.9,540.8" fill="#655361" stroke="#655361" stroke-width="0.4"/><polygon points="378.0,554.6 390.0,547.2 390.1,543.1 378.1,550.5" fill="#30272d" stroke="#30272d" stroke-width="0.4"/><polygon points="372.5,553.5 378.0,554.6 378.1,550.5 372.6,549.4" fill="#957a8e" stroke="#957a8e" stroke-width="0.4"/><polygon points="372.6,549.4 378.1,550.5 390.1,543.1 384.5,542.1" fill="#655361" stroke="#655361" stroke-width="0.4"/><polygon points="391.5,554.9 403.3,547.5 403.5,543.4 391.6,550.8" fill="#30272d" stroke="#30272d" stroke-width="0.4"/><polygon points="385.9,553.8 391.5,554.9 391.6,550.8 386.0,549.7" fill="#957a8e" stroke="#957a8e" stroke-width="0.4"/><polygon points="386.0,549.7 391.6,550.8 403.5,543.4 397.9,542.4" fill="#655361" stroke="#655361" stroke-width="0.4"/></g>
<polyline points="21.9,722.4 324.0,790.4 486.0,675.7 497.4,467.1" stroke="#000" stroke-width="2" fill="none" stroke-linejoin="miter"/>
<path d="M40.8 727.9L44.3 725.8 M72.5 735.1L76.0 733.0 M104.6 742.3L108.0 740.2 M136.9 749.6L140.3 747.4 M169.5 757.0L172.9 754.8 M202.5 764.4L205.8 762.2 M235.7 771.9L239.0 769.7 M269.3 779.5L272.5 777.2 M303.2 787.1L306.4 784.8 M343.4 779.1L337.6 777.8 M370.7 759.8L364.9 758.5 M397.3 740.9L391.6 739.7 M423.2 722.5L417.6 721.3 M448.6 704.5L443.0 703.4 M473.4 687.0L467.8 685.8 M488.8 670.6L481.3 669.1 M490.1 647.7L482.5 646.2 M491.3 624.5L483.8 623.0 M492.6 601.0L485.0 599.6 M494.0 577.3L486.3 575.9 M495.3 553.3L487.6 551.9 M496.6 529.1L488.9 527.7 M498.0 504.6L490.2 503.2 M499.4 479.8L491.5 478.4" stroke="#000" stroke-width="1" fill="none"/>
<g class="tl"><text x="34.8" y="748.2">-2.0</text><text x="66.5" y="755.3">-1.5</text><text x="98.5" y="762.5">-1.0</text><text x="130.8" y="769.8">-0.5</text><text x="163.4" y="777.2">0.0</text><text x="196.4" y="784.6">0.5</text><text x="229.6" y="792.1">1.0</text><text x="263.2" y="799.6">1.5</text><text x="297.1" y="807.3">2.0</text><text x="351.5" y="797.6">0.0</text><text x="378.8" y="778.3">0.13</text><text x="405.4" y="759.5">0.26</text><text x="431.4" y="741.1">0.4</text><text x="456.8" y="723.1">0.53</text><text x="481.5" y="705.6">0.66</text><text x="502.8" y="678.5">-2.0</text><text x="504.0" y="655.6">-1.5</text><text x="505.3" y="632.4">-1.0</text><text x="506.6" y="609.0">-0.5</text><text x="507.9" y="585.2">0.0</text><text x="509.2" y="561.3">0.5</text><text x="510.6" y="537.0">1.0</text><text x="511.9" y="512.5">1.5</text><text x="513.3" y="487.7">2.0</text></g>
<text class="al" x="148.2" y="796.8" transform="rotate(12.9 148.2 796.8)" text-anchor="middle"><tspan font-style="italic">J</tspan><tspan class="pr" dy="3">′</tspan></text>
<text class="al" x="547.5" y="569.7" transform="rotate(-87 547.5 569.7)" text-anchor="middle">log(<tspan font-style="italic">T</tspan><tspan class="pr">′</tspan>)</text>
<text class="al cl" transform="translate(379.9 810.2) rotate(-36)" text-anchor="middle"><tspan x="0.0" y="0.0">x</tspan><tspan x="10.7" y="0.0">(</tspan><tspan x="20.6" y="0.0">A</tspan><tspan x="31.7" y="5.0" class="sb">1</tspan><tspan x="43.6" y="5.0" class="sb">+</tspan><tspan x="58.6" y="5.0" class="sb">x</tspan><tspan x="78.0" y="0.0">B</tspan><tspan x="88.8" y="5.0" class="sb">1</tspan><tspan x="102.7" y="5.0" class="sb">−</tspan><tspan x="118.0" y="5.0" class="sb">x</tspan><tspan x="136.6" y="0.0">O</tspan><tspan x="149.5" y="5.0" class="sb">2</tspan><tspan x="158.7" y="0.0">)</tspan></text></g>
<g id="pd"><polygon points="585.0,726.5 763.3,620.1 760.5,415.4 572.6,511.2" fill="#fbfbfb"/>
<polygon points="763.3,620.1 1053.9,679.4 1065.4,468.7 760.5,415.4" fill="#f2f2f2"/>
<polygon points="585.0,726.5 890.2,795.2 1053.9,679.4 763.3,620.1" fill="#f5f5f5"/>
<path d="M783.1 624.1L781.2 419.0 M813.7 630.3L813.2 424.6 M844.5 636.6L845.5 430.2 M875.6 643.0L878.2 435.9 M907.0 649.4L911.1 441.7 M938.7 655.9L944.4 447.5 M970.6 662.4L977.9 453.4 M1002.8 669.0L1011.8 459.3 M1035.4 675.6L1046.0 465.3" stroke="#c2c2c2" stroke-width="1.2" fill="none"/>
<path d="M603.4 715.5L592.1 501.3 M633.4 697.6L623.8 485.1 M662.7 680.1L654.6 469.3 M691.3 663.0L684.8 454.0 M719.3 646.3L714.2 439.0 M746.6 630.0L742.9 424.3" stroke="#cacaca" stroke-width="1.2" stroke-dasharray="18 7" fill="none"/>
<path d="M605.7 731.1L783.1 624.1 M637.7 738.3L813.7 630.3 M670.0 745.6L844.5 636.6 M702.7 753.0L875.6 643.0 M735.6 760.4L907.0 649.4 M768.9 767.9L938.7 655.9 M802.5 775.4L970.6 662.4 M836.4 783.1L1002.8 669.0 M870.7 790.8L1035.4 675.6 M584.6 720.7L763.2 614.5 M583.3 697.0L762.9 592.0 M581.9 673.1L762.6 569.2 M580.5 649.0L762.3 546.2 M579.1 624.5L762.0 522.9 M577.7 599.8L761.6 499.4 M576.3 574.8L761.3 475.6 M574.8 549.4L761.0 451.6 M573.4 523.8L760.6 427.3" stroke="#c9c9c9" stroke-width="1.0" fill="none"/>
<path d="M907.1 783.2L603.4 715.5 M934.7 763.7L633.4 697.6 M961.6 744.6L662.7 680.1 M987.9 726.1L691.3 663.0 M1013.5 707.9L719.3 646.3 M1038.6 690.2L746.6 630.0 M763.2 614.5L1054.2 673.7 M762.9 592.0L1055.5 650.6 M762.6 569.2L1056.7 627.1 M762.3 546.2L1058.0 603.5 M762.0 522.9L1059.4 579.5 M761.6 499.4L1060.7 555.3 M761.3 475.6L1062.0 530.8 M761.0 451.6L1063.4 506.1 M760.6 427.3L1064.8 481.0" stroke="#b3b3b3" stroke-width="1.2" stroke-dasharray="3.5 4" fill="none"/>
<g><polygon points="895.5,644.1 907.5,636.4 907.9,613.0 895.9,620.6" fill="#3d342d" stroke="#3d342d" stroke-width="0.4"/><polygon points="890.1,643.0 895.5,644.1 895.9,620.6 890.4,619.5" fill="#5e5046" stroke="#5e5046" stroke-width="0.4"/><polygon points="890.4,619.5 895.9,620.6 907.9,613.0 902.5,611.9" fill="#4d4239" stroke="#4d4239" stroke-width="0.4"/><polygon points="675.5,547.4 688.4,540.4 688.2,536.4 675.3,543.5" fill="#21403a" stroke="#21403a" stroke-width="0.4"/><polygon points="670.3,546.4 675.5,547.4 675.3,543.5 670.2,542.5" fill="#66c8b4" stroke="#66c8b4" stroke-width="0.4"/><polygon points="670.2,542.5 675.3,543.5 688.2,536.4 683.1,535.4" fill="#45887a" stroke="#45887a" stroke-width="0.4"/><polygon points="840.4,581.6 852.7,574.2 852.8,570.3 840.4,577.6" fill="#263a2d" stroke="#263a2d" stroke-width="0.4"/><polygon points="835.0,580.6 840.4,581.6 840.4,577.6 835.0,576.6" fill="#78b48c" stroke="#78b48c" stroke-width="0.4"/><polygon points="835.0,576.6 840.4,577.6 852.8,570.3 847.4,569.2" fill="#527a5f" stroke="#527a5f" stroke-width="0.4"/><polygon points="879.9,611.4 892.0,603.9 892.1,599.9 880.0,607.4" fill="#401743" stroke="#401743" stroke-width="0.4"/><polygon points="874.5,610.3 879.9,611.4 880.0,607.4 874.5,606.4" fill="#c848d0" stroke="#c848d0" stroke-width="0.4"/><polygon points="874.5,606.4 880.0,607.4 892.1,599.9 886.7,598.8" fill="#88318d" stroke="#88318d" stroke-width="0.4"/><polygon points="895.8,615.3 907.9,607.7 908.0,603.8 895.9,611.4" fill="#3d342d" stroke="#3d342d" stroke-width="0.4"/><polygon points="890.4,614.2 895.8,615.3 895.9,611.4 890.5,610.3" fill="#5e5046" stroke="#5e5046" stroke-width="0.4"/><polygon points="890.5,610.3 895.9,611.4 908.0,603.8 902.5,602.7" fill="#4d4239" stroke="#4d4239" stroke-width="0.4"/><polygon points="887.6,559.1 899.8,551.8 899.9,547.7 887.6,555.1" fill="#3f3c44" stroke="#3f3c44" stroke-width="0.4"/><polygon points="882.1,558.1 887.6,559.1 887.6,555.1 882.1,554.0" fill="#c4bcd4" stroke="#c4bcd4" stroke-width="0.4"/><polygon points="882.1,554.0 887.6,555.1 899.9,547.7 894.4,546.7" fill="#858090" stroke="#858090" stroke-width="0.4"/><polygon points="935.2,553.6 947.3,546.2 947.4,542.1 935.3,549.5" fill="#30272d" stroke="#30272d" stroke-width="0.4"/><polygon points="929.6,552.5 935.2,553.6 935.3,549.5 929.7,548.4" fill="#957a8e" stroke="#957a8e" stroke-width="0.4"/><polygon points="929.7,548.4 935.3,549.5 947.4,542.1 941.8,541.0" fill="#655361" stroke="#655361" stroke-width="0.4"/></g>
<polyline points="585.0,726.5 890.2,795.2 1053.9,679.4 1065.4,468.7" stroke="#000" stroke-width="2" fill="none" stroke-linejoin="miter"/>
<path d="M604.1 732.1L607.6 730.0 M636.1 739.3L639.6 737.2 M668.5 746.6L671.9 744.4 M701.1 754.0L704.6 751.8 M734.1 761.4L737.5 759.2 M767.4 768.9L770.7 766.7 M801.0 776.5L804.3 774.2 M834.9 784.1L838.2 781.8 M869.2 791.8L872.4 789.5 M909.8 783.7L904.0 782.5 M937.3 764.2L931.6 763.0 M964.2 745.2L958.5 744.0 M990.5 726.6L984.8 725.4 M1016.1 708.5L1010.5 707.3 M1041.1 690.7L1035.5 689.6 M1056.7 674.2L1049.1 672.7 M1058.0 651.1L1050.4 649.5 M1059.3 627.7L1051.6 626.1 M1060.6 604.0L1052.9 602.5 M1061.9 580.0L1054.2 578.6 M1063.3 555.8L1055.5 554.4 M1064.6 531.3L1056.8 529.9 M1066.0 506.6L1058.1 505.1 M1067.4 481.5L1059.5 480.1" stroke="#000" stroke-width="1" fill="none"/>
<g class="tl"><text x="598.1" y="752.3">-2.0</text><text x="630.1" y="759.5">-1.5</text><text x="662.4" y="766.8">-1.0</text><text x="695.1" y="774.2">-0.5</text><text x="728.0" y="781.6">0.0</text><text x="761.3" y="789.1">0.5</text><text x="794.9" y="796.6">1.0</text><text x="828.8" y="804.3">1.5</text><text x="863.1" y="812.0">2.0</text><text x="917.8" y="802.3">0.0</text><text x="945.4" y="782.8">0.13</text><text x="972.3" y="763.7">0.26</text><text x="998.6" y="745.2">0.4</text><text x="1024.2" y="727.0">0.53</text><text x="1049.3" y="709.3">0.66</text><text x="1070.7" y="682.1">-2.0</text><text x="1072.0" y="659.0">-1.5</text><text x="1073.2" y="635.5">-1.0</text><text x="1074.5" y="611.9">-0.5</text><text x="1075.9" y="587.9">0.0</text><text x="1077.2" y="563.7">0.5</text><text x="1078.5" y="539.2">1.0</text><text x="1079.9" y="514.5">1.5</text><text x="1081.3" y="489.4">2.0</text></g>
<text class="al" x="712.8" y="801.2" transform="rotate(12.9 712.8 801.2)" text-anchor="middle"><tspan font-style="italic">J</tspan><tspan class="pr" dy="3">′</tspan></text>
<text class="al" x="1115.4" y="572.4" transform="rotate(-87 1115.4 572.4)" text-anchor="middle">log(<tspan font-style="italic">T</tspan><tspan class="pr">′</tspan>)</text>
<text class="al cl" transform="translate(946.9 814.4) rotate(-36)" text-anchor="middle"><tspan x="0.0" y="0.0">x</tspan><tspan x="10.7" y="0.0">(</tspan><tspan x="20.6" y="0.0">A</tspan><tspan x="31.7" y="5.0" class="sb">1</tspan><tspan x="43.6" y="5.0" class="sb">+</tspan><tspan x="58.6" y="5.0" class="sb">x</tspan><tspan x="78.0" y="0.0">B</tspan><tspan x="88.8" y="5.0" class="sb">1</tspan><tspan x="102.7" y="5.0" class="sb">−</tspan><tspan x="118.0" y="5.0" class="sb">x</tspan><tspan x="136.6" y="0.0">O</tspan><tspan x="149.5" y="5.0" class="sb">2</tspan><tspan x="158.7" y="0.0">)</tspan></text></g>
<text class="pl" x="7" y="25.5">(a)</text>
<text class="pl" x="551.5" y="25.5">(b)</text>
<text class="pl" x="6.5" y="408.5">(c)</text>
<text class="pl" x="551.5" y="408.5">(d)</text>
</svg>
</body></html>
